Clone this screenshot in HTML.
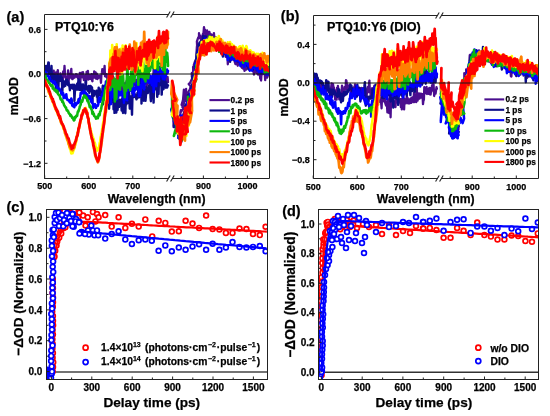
<!DOCTYPE html>
<html><head><meta charset="utf-8"><style>
html,body{margin:0;padding:0;background:#fff;}
svg{display:block;font-family:"Liberation Sans",sans-serif;font-weight:bold;}
text{stroke:#000;stroke-width:0.25px;}
</style></head><body>
<svg width="550" height="416" viewBox="0 0 550 416">
<defs><filter id="soft" x="0" y="0" width="1" height="1"><feGaussianBlur stdDeviation="0.5"/></filter></defs>
<rect width="550" height="416" fill="#fff"/>
<g filter="url(#soft)">
<defs>
<clipPath id="ca"><rect x="44.5" y="14.5" width="225.0" height="164.0"/></clipPath>
<clipPath id="cb"><rect x="313.5" y="15.5" width="225.0" height="163.0"/></clipPath>
<clipPath id="cc"><rect x="46.5" y="209.5" width="221.0" height="170.0"/></clipPath>
<clipPath id="cd"><rect x="318.5" y="209.5" width="220.0" height="170.0"/></clipPath>
</defs>
<g clip-path="url(#ca)" stroke-linecap="round">
<path d="M44.7 66.2 45.2 71 45.6 72 46.1 69.3 46.5 70.3 47 69 47.4 71.3 47.9 68 48.3 71 48.8 74 49.2 70.6 49.7 72.4 50.1 73.5 50.6 72.4 51 75 51.5 76.3 51.9 75.5 52.4 75.6 52.8 82.1 53.3 73.8 53.7 70.6 54.2 79.1 54.6 74.5 55.1 76.7 55.5 75.2 56 72.5 56.4 77.1 56.9 77.6 57.3 75.2 57.8 70.1 58.2 75.3 58.7 75.4 59.1 76.5 59.6 77.5 60 76.7 60.5 73.3 60.9 76 61.4 77.1 61.8 77.7 62.3 74.8 62.7 81.3 63.2 71.4 63.6 76.8 64.1 72.5 64.5 65.8 65 74.1 65.4 76.8 65.9 78.6 66.3 78.6 66.8 76.6 67.2 76.7 67.7 76 68.1 70.4 68.6 81.8 69 77.2 69.5 77.8 69.9 74.6 70.4 73.4 70.8 73.8 71.3 68.9 71.7 78.7 72.2 76.9 72.6 79.2 73.1 74.6 73.5 78 74 76.7 74.4 77.6 74.9 77.1 75.3 74.9 75.8 74.3 76.2 76 76.7 74.3 77.1 77 77.6 75.3 78 78.3 78.5 76.7 78.9 75.6 79.4 75.7 79.8 73 80.3 82.6 80.7 76.6 81.2 74.7 81.6 72.7 82.1 76.3 82.5 77.2 83 72.1 83.4 75.5 83.9 80 84.3 76.2 84.8 79.9 85.2 75.3 85.7 81.7 86.1 83.5 86.6 71.9 87 77.3 87.5 77.5 87.9 70.9 88.4 79.6 88.8 78.3 89.3 77.5 89.7 75 90.2 78.9 90.6 78 91.1 75.9 91.5 74.1 92 80.4 92.4 81.3 92.9 74.4 93.3 75.3 93.8 77.7 94.2 71.4 94.7 76.1 95.1 77.7 95.6 72.3 96 78.6 96.5 73.4 96.9 73.9 97.4 79.1 97.8 76.9 98.3 77.8 98.7 77.8 99.2 75.5 99.6 77.7 100.1 76.2 100.5 76.7 101 82.8 101.4 74.8 101.9 72.7 102.3 69.2 102.8 73 103.2 71.4 103.7 73.8 104.1 71.3 104.6 65.8 105 76.3 105.5 73.9 105.9 75.8 106.4 76.9 106.8 74.1 107.3 78.6 107.7 75.4 108.2 75.7 108.6 81.5 109.1 77.8 109.5 79.5 110 79.5 110.4 77.9 110.9 82.3 111.3 83.5 111.8 80.6 112.2 92 112.7 78.6 113.1 76.4 113.6 80.1 114 84 114.5 81.2 114.9 83.9 115.4 79.5 115.8 86.7 116.3 83.6 116.7 81.8 117.2 76.9 117.6 80.1 118.1 82 118.5 83.1 119 77.1 119.4 71.5 119.9 78.7 120.3 81 120.8 83.1 121.2 89.1 121.7 82.3 122.1 80.6 122.6 81.6 123 91.5 123.5 83 123.9 83.1 124.4 87 124.8 84 125.3 87 125.7 87.3 126.2 82.5 126.6 81 127.1 81.5 127.5 83.3 128 80.7 128.4 83.5 128.9 81 129.3 83.2 129.8 80.2 130.2 81.4 130.7 84 131.1 82.7 131.6 80.5 132 81.8 132.5 86.3 132.9 76.3 133.4 84.5 133.8 74.8 134.3 81.6 134.7 80 135.2 85.2 135.6 82.4 136.1 87.7 136.5 79.8 137 83.4 137.4 85.1 137.9 81.2 138.3 83 138.8 82.1 139.2 83.5 139.7 80.5 140.1 84.7 140.6 83.1 141 82 141.5 84.7 141.9 84.3 142.4 84.5 142.8 83.4 143.3 80.8 143.7 80.2 144.2 82.1 144.6 80.9 145.1 73 145.5 78.7 146 78.9 146.4 87.7 146.9 84.8 147.3 81.2 147.8 81.6 148.2 80.6 148.7 83.5 149.1 79 149.6 80.1 150 80.3 150.5 82.5 150.9 83.7 151.4 84.8 151.8 79.9 152.3 82.3 152.7 76.8 153.2 80.7 153.6 69.2 154.1 80.3 154.5 78.1 155 83.7 155.4 82.8 155.9 79 156.3 86 156.8 79.2 157.2 80.4 157.7 77.3 158.1 82 158.6 78.9 159 76.4 159.5 79.3 159.9 73.9 160.4 85.3 160.8 80.2 161.3 84.7 161.7 80.8 162.2 75.6 162.6 80.9 163.1 80.4 163.5 80 164 80.7 164.4 77.6 164.9 83.5 165.3 83.9 165.8 78.1 166.2 78.7 166.7 79.3 167.1 81.9 167.6 77 168 82.1 M173.2 92.1 172.2 88 172.8 105.4 173.2 108.2 171.6 110.1 173.1 113 173.6 125.6 174 112.8 175.8 111.5 173.9 127.2 178.2 117.6 177.9 121.9 177.2 119.5 179.8 132 177.4 125 178.2 128.3 179 121.4 177 118.9 179.2 121.6 180.9 110.1 180.4 112.6 183.1 109 184.1 105.9 182.2 105 181.6 104.8 183.4 98.5 183.9 89.6 182.4 107.1 184.7 101.1 185.7 94.1 186.1 89 185.1 94 187.6 104.7 187.6 93.5 188.8 97.2 188.9 99.3 188.4 93.4 186.8 94.2 189.8 89.5 190.7 86.4 188.7 84.1 189.5 83.2 189.6 83.9 192.9 76.6 193.3 80.4 191.8 72.9 191.8 75.6 193.7 73.1 193.1 66.9 193.2 73.9 193.9 64.6 195.2 61 196.4 59.1 196.5 53.6 196.9 46.8 197.1 45.3 196.9 41.4 198.3 37.4 199 36.6 199 33.2 199.5 38.1 200 35.5 200.4 36.6 200.8 37.2 201.3 41.5 201.7 36.6 202.2 38.6 202.6 35.4 203.1 33.5 203.5 33 204 27.1 204.4 31.8 204.9 29.6 205.3 35.4 205.8 36.1 206.2 32.8 206.7 32.6 207.1 30.4 207.6 32.9 208 36.5 208.5 35.6 208.9 36.2 209.4 31.8 209.8 34.9 210.3 37.1 210.7 33.8 211.2 35.1 211.6 35.3 212.1 37.8 212.5 35.6 213 35.1 213.4 34.8 213.9 33.1 214.3 37.1 214.8 38.2 215.2 39.2 215.7 37.2 216.1 40.6 216.6 39.7 217 38.2 217.5 38.6 217.9 38.3 218.4 40.4 218.8 40.7 219.3 47 219.7 42.5 220.2 46.2 220.6 45.3 221.1 47.7 221.5 46.6 222 46.1 222.4 50 222.9 52.1 223.3 50.9 223.8 50.5 224.2 51 224.7 53.3 225.1 48.1 225.6 56.8 226 53.6 226.5 54.6 226.9 53.1 227.4 52.3 227.8 64.3 228.3 53.9 228.7 57 229.2 59.4 229.6 48.4 230.1 59.1 230.5 57.1 231 58.3 231.4 55.6 231.9 58.8 232.3 55.9 232.8 59 233.2 59.6 233.7 59.1 234.1 59.3 234.6 61.1 235 62.6 235.5 64.1 235.9 59.8 236.4 61.9 236.8 56.5 237.3 64.6 237.7 65.7 238.2 64.2 238.6 63.2 239.1 62.4 239.5 62.8 240 64.3 240.4 64.4 240.9 63.8 241.3 66.3 241.8 67.7 242.2 62.7 242.7 65.2 243.1 68.7 243.6 65.3 244 66.5 244.5 70.8 244.9 66.6 245.4 68.1 245.8 67.6 246.3 69.7 246.7 67 247.2 68.4 247.6 68 248.1 65.9 248.5 63.5 249 68.2 249.4 69.8 249.9 68.3 250.3 69.1 250.8 69.1 251.2 69.4 251.7 70 252.1 66.3 252.6 69.3 253 71.4 253.5 69.7 253.9 74.5 254.4 71.3 254.8 71 255.3 71.6 255.7 69.7 256.2 69.9 256.6 73.2 257.1 72.7 257.5 73.6 258 74.6 258.4 72.7 258.9 74 259.3 71.9 259.8 72.6 260.2 78.6 260.7 73.2 261.1 80.5 261.6 69.9 262 74.6 262.5 71.8 262.9 73.9 263.4 67.5 263.8 71.5 264.3 74.4 264.7 72.5 265.2 80.1 265.6 69.4 266.1 74 266.5 72.1 267 77.7 267.4 76.9 267.9 71.6 268.3 74.4 268.8 75.2" fill="none" stroke="#4B0C8F" stroke-width="2.3" stroke-linejoin="round"/>
<path d="M44.7 67.6 45.2 66.3 45.6 69.9 46.1 65.9 46.5 71 47 70.3 47.4 69.5 47.9 66.7 48.3 62.5 48.8 62.7 49.2 74.1 49.7 72.5 50.1 73.1 50.6 70.6 51 79.3 51.5 66 51.9 75.8 52.4 75.7 52.8 80.2 53.3 80.2 53.7 74.7 54.2 75.5 54.6 77.6 55.1 75.3 55.5 76.2 56 89.9 56.4 78.6 56.9 84.9 57.3 87.9 57.8 75 58.2 91.6 58.7 80 59.1 77.4 59.6 78.7 60 80.7 60.5 75.5 60.9 79.1 61.4 81.3 61.8 77.8 62.3 92.2 62.7 84 63.2 80.7 63.6 81.9 64.1 86.6 64.5 85.3 65 83.4 65.4 85.7 65.9 80.3 66.3 81.5 66.8 79.7 67.2 84 67.7 81.2 68.1 85.1 68.6 82.4 69 85.9 69.5 86.3 69.9 90.2 70.4 84.9 70.8 87 71.3 85.3 71.7 88.1 72.2 84.7 72.6 85.3 73.1 88.9 73.5 86.5 74 84.7 74.4 101 74.9 91.6 75.3 89.9 75.8 89.9 76.2 85.9 76.7 84.9 77.1 83.8 77.6 89.6 78 84.4 78.5 79.5 78.9 82 79.4 89.9 79.8 82.2 80.3 86.6 80.7 87.6 81.2 90 81.6 84.4 82.1 91.1 82.5 87.2 83 84.5 83.4 88.5 83.9 88.5 84.3 94.7 84.8 85.6 85.2 87.7 85.7 81.3 86.1 86.6 86.6 86.3 87 89.5 87.5 89.4 87.9 90.7 88.4 88.5 88.8 85.9 89.3 92.8 89.7 87.5 90.2 85.9 90.6 85.9 91.1 91.2 91.5 91 92 87.4 92.4 102.7 92.9 90.5 93.3 91.5 93.8 95.9 94.2 91 94.7 91.7 95.1 92.2 95.6 94.4 96 93.4 96.5 90.7 96.9 96.9 97.4 92.6 97.8 102.2 98.3 93.6 98.7 87.6 99.2 95.3 99.6 88.6 100.1 92.7 100.5 92.6 101 93.3 101.4 96.5 101.9 92.6 102.3 91.2 102.8 85.8 103.2 104.2 103.7 89.2 104.1 90.9 104.6 91.3 105 91.8 105.5 89.9 105.9 89.8 106.4 92.1 106.8 90.1 107.3 94.6 107.7 91.8 108.2 83.1 108.6 93.3 109.1 108.7 109.5 94.3 110 100.3 110.4 89.1 110.9 88.1 111.3 101.6 111.8 96.4 112.2 98.8 112.7 101.6 113.1 91.8 113.6 109.4 114 92.9 114.5 112.9 114.9 110.9 115.4 107.8 115.8 112 116.3 112.6 116.7 93.4 117.2 98.7 117.6 110 118.1 99.6 118.5 104.1 119 106.9 119.4 105 119.9 99.7 120.3 100.4 120.8 103.5 121.2 102.5 121.7 110.6 122.1 98.8 122.6 104.4 123 113 123.5 98.9 123.9 103.2 124.4 94.9 124.8 104 125.3 113.3 125.7 103.3 126.2 104.6 126.6 101.6 127.1 99.7 127.5 98.7 128 103.1 128.4 103.1 128.9 87.8 129.3 98.8 129.8 108.6 130.2 102.5 130.7 96.4 131.1 104.4 131.6 101.4 132 114.7 132.5 92.6 132.9 88.4 133.4 96.5 133.8 97.1 134.3 93.5 134.7 94.1 135.2 95.2 135.6 96.9 136.1 97.9 136.5 99.4 137 97.8 137.4 93 137.9 95.4 138.3 89 138.8 97.5 139.2 96.5 139.7 94.2 140.1 95.4 140.6 95.2 141 77.9 141.5 103.5 141.9 92.9 142.4 89.5 142.8 96.2 143.3 89.2 143.7 100.7 144.2 92.9 144.6 96.2 145.1 90.4 145.5 100.9 146 94.8 146.4 86.9 146.9 90 147.3 91.1 147.8 93 148.2 90.2 148.7 89.3 149.1 85.6 149.6 87.2 150 84.3 150.5 96.7 150.9 101.2 151.4 94.9 151.8 89.7 152.3 88.1 152.7 84.8 153.2 84.4 153.6 102.6 154.1 86.3 154.5 82 155 84.2 155.4 89.3 155.9 80.5 156.3 86.4 156.8 84.6 157.2 96.9 157.7 90.9 158.1 77.8 158.6 94 159 77 159.5 84.6 159.9 66.9 160.4 72.3 160.8 71.3 161.3 76 161.7 94.6 162.2 81 162.6 80.2 163.1 76.2 163.5 89.2 164 83.6 164.4 87 164.9 80.3 165.3 87.2 165.8 87.7 166.2 82.4 166.7 83.9 167.1 87.5 167.6 86.1 168 85.4 M173.4 99.2 172.6 102.4 174.4 107.3 172 109 172.9 117.9 173.9 115.5 175.8 121.8 177.1 115.7 175.3 124.8 175.3 117 173.7 126.9 178.1 127.7 180.7 129.7 178.4 135 179.5 131.3 176.7 130.2 179.4 138.6 178.3 133.6 180.7 123.3 182.1 135.4 180.7 132.5 181.7 137.4 182.8 126.6 183 117.3 182.8 117.1 185.6 124.3 184.1 119.2 183.3 114.8 184.6 111.2 187 113.9 185.3 118 185.6 104.5 186.9 112.2 188 106.6 188.6 104.3 186.8 121.2 190.4 104.4 187.9 95.2 189.5 99.8 191.8 94.1 189.5 93.8 193 90.4 192.7 94.7 191.3 88.9 191.5 87.1 193.5 80.2 193.2 81 191.9 76.6 194.9 74.4 195 73.6 196.1 71.8 194.9 67.6 195.2 63.8 196.5 57.1 196.4 56.5 197.3 50.4 198.5 50.7 198.7 52.7 198.6 44.1 199 46.3 199.5 42.4 200 45.3 200.4 41.7 200.8 43.8 201.3 42.9 201.7 44.8 202.2 42.8 202.6 42.9 203.1 36 203.5 39.5 204 36.2 204.4 40 204.9 42.4 205.3 50.4 205.8 36.4 206.2 39.1 206.7 42.2 207.1 38.6 207.6 39.8 208 40 208.5 41.2 208.9 38 209.4 41 209.8 40.8 210.3 41.5 210.7 42.6 211.2 37.2 211.6 39.1 212.1 38.2 212.5 41.1 213 41 213.4 45.2 213.9 39.3 214.3 49.1 214.8 38.3 215.2 44.5 215.7 46.7 216.1 43.9 216.6 44 217 42.9 217.5 44.5 217.9 46 218.4 45.9 218.8 49.1 219.3 48.1 219.7 47.3 220.2 50.7 220.6 45.8 221.1 53.3 221.5 47.3 222 51 222.4 48.6 222.9 56.6 223.3 52.9 223.8 53 224.2 49.8 224.7 53 225.1 51.4 225.6 54.2 226 53.1 226.5 55.9 226.9 55.5 227.4 57 227.8 56.6 228.3 54.3 228.7 55 229.2 58.6 229.6 57.7 230.1 61.9 230.5 57.6 231 56.1 231.4 55.8 231.9 54.3 232.3 48.9 232.8 57.2 233.2 57.4 233.7 52.8 234.1 58.6 234.6 60.1 235 58.7 235.5 53.6 235.9 56.9 236.4 60.9 236.8 59 237.3 59.1 237.7 61.6 238.2 57.3 238.6 59 239.1 61.3 239.5 54.1 240 59.2 240.4 59.3 240.9 59.7 241.3 64.1 241.8 61.1 242.2 60.9 242.7 61.6 243.1 61.6 243.6 60.3 244 64.8 244.5 63.6 244.9 63.4 245.4 59.7 245.8 65 246.3 65.8 246.7 65.7 247.2 65.8 247.6 62.7 248.1 58.8 248.5 69.3 249 65.6 249.4 65.1 249.9 64.5 250.3 66.2 250.8 65.1 251.2 66.9 251.7 67.9 252.1 65.5 252.6 67.2 253 69.7 253.5 66.2 253.9 67.4 254.4 66.5 254.8 65.7 255.3 65.5 255.7 65.8 256.2 66.6 256.6 69.7 257.1 70.4 257.5 64.2 258 67.8 258.4 65.7 258.9 68.4 259.3 68.6 259.8 68.4 260.2 69.3 260.7 66.8 261.1 73.5 261.6 71.8 262 70.7 262.5 68.6 262.9 70.4 263.4 68.4 263.8 65.9 264.3 72 264.7 67 265.2 70.5 265.6 68.6 266.1 71.2 266.5 70 267 73.2 267.4 68.7 267.9 72.7 268.3 70.6 268.8 73.4" fill="none" stroke="#0A0A8A" stroke-width="2.4" stroke-linejoin="round"/>
<path d="M44.7 71.5 45.2 72.6 45.6 71.8 46.1 74.5 46.5 72.6 47 76.1 47.4 75.5 47.9 75.8 48.3 76.1 48.8 76.9 49.2 79 49.7 77.3 50.1 79.3 50.6 81.1 51 81.1 51.5 81.3 51.9 80.8 52.4 81.8 52.8 82.6 53.3 83.1 53.7 83 54.2 81.4 54.6 84 55.1 82.1 55.5 84.5 56 85.2 56.4 84.5 56.9 86.5 57.3 88.4 57.8 87.4 58.2 89 58.7 88.5 59.1 89.8 59.6 88.7 60 90.5 60.5 90.8 60.9 91.5 61.4 94.4 61.8 91.8 62.3 94.6 62.7 94.5 63.2 93.2 63.6 98.2 64.1 95.2 64.5 97.6 65 95.5 65.4 97.3 65.9 98 66.3 94.2 66.8 98.3 67.2 99.8 67.7 100.1 68.1 99.8 68.6 100.5 69 100 69.5 102 69.9 102.1 70.4 102.9 70.8 102.1 71.3 98.5 71.7 99.7 72.2 105.7 72.6 104.3 73.1 105.9 73.5 106.7 74 106.9 74.4 107.2 74.9 102.9 75.3 104.5 75.8 105.3 76.2 103.9 76.7 103.3 77.1 103.6 77.6 102.1 78 103 78.5 99.3 78.9 100.9 79.4 102.1 79.8 98.4 80.3 96.5 80.7 92.8 81.2 93.3 81.6 93.4 82.1 93.4 82.5 91.9 83 92.5 83.4 92.4 83.9 92.2 84.3 90.8 84.8 95.1 85.2 93.1 85.7 92.8 86.1 92.7 86.6 95.2 87 94.9 87.5 94.6 87.9 97.1 88.4 96.3 88.8 97.4 89.3 98.7 89.7 96 90.2 99.2 90.6 99.5 91.1 101.8 91.5 99.2 92 100.5 92.4 103.4 92.9 103.9 93.3 107.9 93.8 104.7 94.2 105.3 94.7 105.7 95.1 104.1 95.6 106 96 107.9 96.5 105.7 96.9 105.7 97.4 106 97.8 105.9 98.3 104.2 98.7 101.6 99.2 97.6 99.6 101.1 100.1 101.8 100.5 100.5 101 99 101.4 98.4 101.9 95.3 102.3 93.5 102.8 94.8 103.2 90.7 103.7 88.2 104.1 90.3 104.6 88.9 105 85.4 105.5 87.2 105.9 81.6 106.4 82.9 106.8 82.4 107.3 86 107.7 87.5 108.2 89.2 108.6 85.3 109.1 94.2 109.5 93.4 110 87.5 110.4 86.5 110.9 104.2 111.3 96.6 111.8 76.6 112.2 85.7 112.7 95.6 113.1 87.8 113.6 97.5 114 95 114.5 98.2 114.9 96.2 115.4 87.7 115.8 95.3 116.3 100.1 116.7 90.2 117.2 99 117.6 88.4 118.1 97.5 118.5 93.8 119 92.2 119.4 91.3 119.9 94.6 120.3 95.2 120.8 93.4 121.2 91.3 121.7 93.3 122.1 92.1 122.6 97.7 123 98.1 123.5 97.9 123.9 103 124.4 91.1 124.8 88.3 125.3 89.6 125.7 99.4 126.2 91.9 126.6 93.4 127.1 100.5 127.5 84.7 128 84.6 128.4 86.3 128.9 90.5 129.3 87.5 129.8 88.6 130.2 83.9 130.7 90.8 131.1 89.2 131.6 86.8 132 82.8 132.5 92.9 132.9 90.2 133.4 78.3 133.8 95.8 134.3 90.6 134.7 90.6 135.2 88.5 135.6 88.4 136.1 89.4 136.5 88.5 137 82.1 137.4 87.5 137.9 82.6 138.3 63.7 138.8 96 139.2 86.9 139.7 85 140.1 96.2 140.6 92.9 141 88.2 141.5 86.8 141.9 77.1 142.4 87.3 142.8 81.5 143.3 78 143.7 73 144.2 89.5 144.6 79.2 145.1 80.5 145.5 79.2 146 82.6 146.4 78.2 146.9 78.8 147.3 79.3 147.8 81.6 148.2 65.9 148.7 80.7 149.1 83.1 149.6 75.5 150 81.2 150.5 76 150.9 78.8 151.4 82.6 151.8 85.3 152.3 76.2 152.7 79.5 153.2 74.7 153.6 91.9 154.1 81.4 154.5 77.8 155 68.5 155.4 67 155.9 73.2 156.3 86.1 156.8 71.2 157.2 81.3 157.7 75.2 158.1 67.7 158.6 80.9 159 81.1 159.5 75.4 159.9 69.3 160.4 74 160.8 70.4 161.3 74 161.7 75.2 162.2 74.2 162.6 78 163.1 79.1 163.5 69.4 164 74.2 164.4 79.6 164.9 74.8 165.3 72.8 165.8 76.7 166.2 70.5 166.7 73.8 167.1 69.5 167.6 73 168 70.9 M172.8 94.5 173.9 103.5 173.2 105.2 171.2 109.5 175.1 123 175.2 118.2 173.9 121.1 174.3 121.7 176.4 117.8 176 129.3 176.4 123.7 177.5 130.7 179 130.1 178.6 132 179.7 136.6 178.2 138 178.8 136.2 179.8 123.5 181.2 135.2 181.4 138.9 181.4 141.4 180.8 128.3 182.2 125.8 182.7 124.7 182.3 129.8 181.2 115.5 186.1 120.2 183.9 117 188.3 116.6 186 122.5 185.3 122.1 187.1 116.5 186.4 114.9 185.9 112 186 108.7 187.6 105.3 187.4 101.8 190.9 106.4 189.4 99.8 190.7 92.1 190.1 96.2 192.4 91.9 191 93.4 190.2 92.1 194.7 85.4 194.2 87.6 192.8 89.3 193.8 83.3 193.4 80.8 194.4 77.8 194.5 71.5 196.1 69.3 195.7 63.3 195.5 65 198.6 61.5 197.5 60.4 198.1 58.8 198.2 53 198.5 53.7 199 48.3 199.5 53.7 200 49.8 200.4 50.1 200.8 49.6 201.3 45.2 201.7 44.4 202.2 47 202.6 43.9 203.1 47.5 203.5 43.4 204 44 204.4 42.2 204.9 38.6 205.3 43.5 205.8 42.9 206.2 45.6 206.7 42.4 207.1 42.9 207.6 45.5 208 44.4 208.5 43.3 208.9 40.3 209.4 43.8 209.8 42.6 210.3 43.1 210.7 45.6 211.2 43.8 211.6 46.1 212.1 39.2 212.5 43.3 213 41 213.4 43.1 213.9 46.5 214.3 42.1 214.8 41.6 215.2 44.1 215.7 44.2 216.1 45.5 216.6 47.6 217 43.3 217.5 43.4 217.9 48 218.4 43.4 218.8 49.8 219.3 51.6 219.7 49.4 220.2 46.6 220.6 49.5 221.1 49 221.5 52.3 222 50.3 222.4 50.6 222.9 52.7 223.3 50.2 223.8 50.9 224.2 52 224.7 47.8 225.1 52.2 225.6 54 226 54.1 226.5 54.1 226.9 54.2 227.4 54.3 227.8 60.1 228.3 54.8 228.7 54 229.2 55.3 229.6 55.1 230.1 54.8 230.5 57.8 231 53.2 231.4 59.8 231.9 58.4 232.3 58 232.8 59 233.2 53.8 233.7 58.9 234.1 54.4 234.6 58.9 235 50.5 235.5 61 235.9 60.7 236.4 59.5 236.8 60.4 237.3 58.4 237.7 59.8 238.2 60.5 238.6 61.3 239.1 60.9 239.5 61.7 240 58.3 240.4 65.9 240.9 63.5 241.3 59.4 241.8 63.5 242.2 60.6 242.7 60.2 243.1 63.6 243.6 63.6 244 67.2 244.5 62.1 244.9 66.4 245.4 60.9 245.8 58.7 246.3 58.7 246.7 60.9 247.2 63.8 247.6 64 248.1 65.5 248.5 64.6 249 63.4 249.4 64.5 249.9 70.8 250.3 62.2 250.8 68.4 251.2 64.3 251.7 64.4 252.1 70.6 252.6 65.6 253 67.9 253.5 67.5 253.9 66.7 254.4 65.7 254.8 65.7 255.3 68.2 255.7 68.8 256.2 66.5 256.6 68.9 257.1 67.2 257.5 70.6 258 67.5 258.4 69.3 258.9 71.1 259.3 72.6 259.8 67.4 260.2 71.4 260.7 65.7 261.1 70.5 261.6 67.5 262 67.9 262.5 72 262.9 69.2 263.4 70.6 263.8 70.1 264.3 72.1 264.7 73.2 265.2 72.9 265.6 71.9 266.1 70.2 266.5 74.8 267 69.9 267.4 74.4 267.9 74.5 268.3 72.9 268.8 74" fill="none" stroke="#0000FF" stroke-width="2.5" stroke-linejoin="round"/>
<path d="M44.7 77.3 45.2 74.1 45.6 78.1 46.1 78.1 46.5 79.9 47 79.9 47.4 81.7 47.9 81 48.3 81.2 48.8 82.8 49.2 83.3 49.7 83.2 50.1 83.9 50.6 85.3 51 85.8 51.5 85.3 51.9 85.9 52.4 85.2 52.8 88.5 53.3 87.4 53.7 89.1 54.2 88.8 54.6 90.5 55.1 90.6 55.5 90.1 56 91.6 56.4 90.2 56.9 92.5 57.3 90.9 57.8 93.1 58.2 94.5 58.7 94.6 59.1 95 59.6 95.5 60 96.8 60.5 98.9 60.9 99.6 61.4 99.6 61.8 99.6 62.3 102 62.7 101.1 63.2 102.6 63.6 103.3 64.1 105.3 64.5 105.7 65 106.6 65.4 107.2 65.9 107.2 66.3 108.9 66.8 110.4 67.2 109.9 67.7 111.1 68.1 111.2 68.6 112.8 69 113.2 69.5 114 69.9 114.2 70.4 115.9 70.8 114.9 71.3 115.7 71.7 116.2 72.2 117.9 72.6 117.6 73.1 118.1 73.5 119.7 74 120.4 74.4 120 74.9 117 75.3 117.9 75.8 117 76.2 115.8 76.7 115.3 77.1 115.9 77.6 112.9 78 111.4 78.5 111.5 78.9 109.7 79.4 108.4 79.8 106.4 80.3 105.6 80.7 104.6 81.2 101.4 81.6 100.5 82.1 101.8 82.5 100.6 83 98.5 83.4 97.1 83.9 96.9 84.3 95.4 84.8 95.8 85.2 97.5 85.7 96.5 86.1 98 86.6 97.7 87 99.2 87.5 101.3 87.9 100.1 88.4 102.2 88.8 103.4 89.3 104.8 89.7 107 90.2 107.3 90.6 106.5 91.1 108.8 91.5 109.3 92 110.3 92.4 113.9 92.9 112 93.3 113.9 93.8 113.8 94.2 116 94.7 116.3 95.1 116.8 95.6 117.2 96 118.7 96.5 117.1 96.9 117.3 97.4 116.7 97.8 118.3 98.3 116.1 98.7 114.4 99.2 113.8 99.6 115.3 100.1 111.8 100.5 111.3 101 109.5 101.4 107.4 101.9 105 102.3 103.4 102.8 101.5 103.2 97.9 103.7 100.2 104.1 96.4 104.6 93.3 105 90.6 105.5 87.7 105.9 89 106.4 85.8 106.8 86.6 107.3 80 107.7 85.1 108.2 91.5 108.6 81.7 109.1 87.1 109.5 83.3 110 89.9 110.4 89.9 110.9 84.1 111.3 80.5 111.8 85.7 112.2 84.2 112.7 80.3 113.1 86.7 113.6 86.5 114 78.6 114.5 83.2 114.9 101.4 115.4 88.7 115.8 84.3 116.3 98.7 116.7 80.9 117.2 68.6 117.6 72 118.1 74.2 118.5 84.8 119 89.1 119.4 70.1 119.9 89.7 120.3 75.6 120.8 84.4 121.2 85.5 121.7 85.2 122.1 82.5 122.6 83.3 123 75.3 123.5 83.7 123.9 87.7 124.4 87.2 124.8 97.1 125.3 87.8 125.7 85.4 126.2 90.8 126.6 82.1 127.1 72.7 127.5 66.8 128 87.7 128.4 83.2 128.9 84.6 129.3 77.3 129.8 81.2 130.2 90.2 130.7 80.7 131.1 71.8 131.6 75.6 132 86.3 132.5 71.2 132.9 61.9 133.4 63.4 133.8 68.9 134.3 81.4 134.7 76.9 135.2 71.5 135.6 68 136.1 74.8 136.5 74.2 137 71.5 137.4 73.1 137.9 69.7 138.3 84.8 138.8 59.5 139.2 74.1 139.7 67 140.1 77 140.6 71.1 141 74.4 141.5 75.1 141.9 72.9 142.4 77.3 142.8 62.8 143.3 76.6 143.7 69.3 144.2 72.6 144.6 79.4 145.1 76.6 145.5 81.5 146 55.8 146.4 63.3 146.9 74.6 147.3 61.7 147.8 67.2 148.2 78.3 148.7 73 149.1 61.8 149.6 70 150 70.9 150.5 67.2 150.9 66 151.4 67.2 151.8 57.1 152.3 66.6 152.7 59.8 153.2 67.8 153.6 67.7 154.1 59.6 154.5 68.4 155 66.6 155.4 63.9 155.9 68.3 156.3 61.8 156.8 61.8 157.2 63.7 157.7 62.7 158.1 69.6 158.6 48.3 159 60.5 159.5 50.1 159.9 58.8 160.4 63.2 160.8 61.5 161.3 67.1 161.7 63 162.2 44.5 162.6 54.1 163.1 70 163.5 69.9 164 61 164.4 51 164.9 73.2 165.3 47.5 165.8 61.8 166.2 59.6 166.7 61.2 167.1 52.7 167.6 57.2 168 66 M173.1 103.9 172.2 115.3 172.1 96.1 174.7 107.2 173.1 116.9 175.4 118.4 176.9 122.7 174.1 118.8 176.8 126.9 173.9 135.9 175.3 130.2 179 134 177.2 124.8 177.4 119.1 179.7 129.3 180.1 131.3 179.6 138.5 180.5 130.9 182 133.6 183.3 132.9 181.5 140.6 181.3 132.3 180.6 128.2 183.4 129.2 185 129.2 183.5 131.3 184.2 121.8 182.3 132.4 186.5 127.5 185.3 124.3 186.6 123.4 186.8 117.2 187.4 109.6 187.3 112.2 189.5 109.4 187.7 116 190.5 105 189.3 108.8 189 107.8 188 96.8 188.1 100 191.1 99.7 191.7 101.9 191.6 92.5 191.8 94.8 192.5 91.3 193.6 85.4 193.2 87.9 193.8 84.8 196.4 79.2 194.4 79.2 195.9 76.1 196.2 70.6 196.4 65.6 197.1 66.6 197.1 64.3 197.9 62.8 198.2 61.2 198.7 60.6 199.2 56.8 199.5 53.7 199.9 51.2 200.4 55.4 200.8 48.4 201.3 48.5 201.7 50.1 202.2 45.7 202.6 54.7 203.1 50 203.5 46.3 204 44.2 204.4 44.6 204.9 45.7 205.3 42.6 205.8 47 206.2 48.1 206.7 41.2 207.1 43.7 207.6 46.2 208 40.1 208.5 45.9 208.9 42.8 209.4 36.3 209.8 42.5 210.3 39.7 210.7 44.9 211.2 42.8 211.6 40 212.1 42.1 212.5 46.6 213 41.4 213.4 42.5 213.9 46.7 214.3 45.5 214.8 43.4 215.2 43.8 215.7 43.2 216.1 42 216.6 48.6 217 47.1 217.5 42.6 217.9 44.4 218.4 42.2 218.8 43.5 219.3 51.8 219.7 48.5 220.2 50.5 220.6 44.3 221.1 48.1 221.5 42.4 222 46.6 222.4 49.3 222.9 45 223.3 50.5 223.8 47.6 224.2 46.8 224.7 51.8 225.1 49.5 225.6 52 226 48.3 226.5 47.7 226.9 47.8 227.4 49.4 227.8 53.2 228.3 51.7 228.7 53.7 229.2 48.5 229.6 54.1 230.1 55.6 230.5 53 231 53.7 231.4 51.4 231.9 50.6 232.3 53.6 232.8 48.3 233.2 55.1 233.7 55.5 234.1 55.2 234.6 56.4 235 53.2 235.5 52.9 235.9 52.1 236.4 58.5 236.8 57.2 237.3 55.4 237.7 56.3 238.2 55.6 238.6 58.4 239.1 56.3 239.5 54.7 240 55.5 240.4 54.3 240.9 59.7 241.3 59.3 241.8 57 242.2 57.8 242.7 60 243.1 62.8 243.6 57.3 244 60.3 244.5 57.5 244.9 58.5 245.4 60.8 245.8 55.3 246.3 56.7 246.7 58.7 247.2 61.2 247.6 56.7 248.1 61.2 248.5 59.2 249 60 249.4 56.8 249.9 61.2 250.3 59.9 250.8 60.9 251.2 60.6 251.7 57 252.1 59.1 252.6 59.1 253 61.3 253.5 64.4 253.9 62.5 254.4 61.2 254.8 63.4 255.3 65.3 255.7 58.6 256.2 61.1 256.6 62.4 257.1 64.9 257.5 62.1 258 61.1 258.4 62.5 258.9 63.4 259.3 64.8 259.8 65.8 260.2 67.5 260.7 64.3 261.1 67.1 261.6 65.6 262 64.2 262.5 61.7 262.9 64 263.4 67.5 263.8 67.8 264.3 64.2 264.7 72.8 265.2 65.6 265.6 66.2 266.1 71.1 266.5 69.4 267 71.4 267.4 72.2 267.9 66.9 268.3 71.1 268.8 71.7" fill="none" stroke="#0CB80C" stroke-width="2.6" stroke-linejoin="round"/>
<path d="M44.7 81.5 45.2 81.4 45.6 82 46.1 82.2 46.5 85.1 47 87.3 47.4 87.5 47.9 89 48.3 90.5 48.8 90.2 49.2 93.9 49.7 92.5 50.1 94.5 50.6 97.4 51 96.5 51.5 97.8 51.9 98.6 52.4 100.4 52.8 99.8 53.3 102 53.7 104.9 54.2 105 54.6 105.8 55.1 107.4 55.5 108.5 56 109.4 56.4 110.8 56.9 110.3 57.3 113 57.8 113.1 58.2 115.2 58.7 115.7 59.1 116.1 59.6 117.8 60 118.3 60.5 120.9 60.9 121.2 61.4 123 61.8 122.7 62.3 125.8 62.7 125.5 63.2 127.9 63.6 128.7 64.1 128.5 64.5 130.8 65 131.5 65.4 133.5 65.9 135.6 66.3 136.5 66.8 138.3 67.2 138.2 67.7 140.7 68.1 142.3 68.6 144.3 69 144.5 69.5 147 69.9 148.8 70.4 149.2 70.8 151.2 71.3 153.4 71.7 152.6 72.2 152.3 72.6 153.2 73.1 151.7 73.5 150.2 74 149.2 74.4 147.5 74.9 145.9 75.3 144.1 75.8 142.9 76.2 141.5 76.7 138.2 77.1 136.5 77.6 134.4 78 131.4 78.5 130.4 78.9 128.6 79.4 125.2 79.8 124.5 80.3 121.5 80.7 121 81.2 119.1 81.6 116.1 82.1 113.3 82.5 113.1 83 111.1 83.4 110 83.9 109.8 84.3 110.2 84.8 108.5 85.2 108.4 85.7 107.8 86.1 109.8 86.6 110.5 87 113.4 87.5 114.2 87.9 116.5 88.4 118.8 88.8 121 89.3 124.2 89.7 126.1 90.2 127.4 90.6 129.5 91.1 131.5 91.5 133.8 92 134.5 92.4 137.1 92.9 137 93.3 138.8 93.8 139.4 94.2 142.6 94.7 142.6 95.1 144 95.6 146.8 96 147.3 96.5 148.6 96.9 150.7 97.4 149.7 97.8 150 98.3 148.2 98.7 148 99.2 146.4 99.6 143.2 100.1 142.2 100.5 138.1 101 135.8 101.4 133.6 101.9 131.7 102.3 128 102.8 125 103.2 122.6 103.7 120.4 104.1 116 104.6 112 105 109.6 105.5 107.1 105.9 101.7 106.4 99.6 106.8 90.3 107.3 92.5 107.7 89.1 108.2 87.4 108.6 80.7 109.1 77.7 109.5 61.6 110 68.8 110.4 50.6 110.9 56.2 111.3 66.8 111.8 64.1 112.2 45 112.7 62 113.1 54.7 113.6 52.2 114 59 114.5 58.4 114.9 67.2 115.4 47.3 115.8 54.3 116.3 56.3 116.7 44.3 117.2 65.4 117.6 69.4 118.1 52.7 118.5 59.7 119 55.2 119.4 58.9 119.9 52.3 120.3 62.8 120.8 48.8 121.2 66.5 121.7 59.5 122.1 74 122.6 45.5 123 56.4 123.5 48.1 123.9 56.2 124.4 60.3 124.8 50.9 125.3 47.4 125.7 45.3 126.2 59.1 126.6 66.6 127.1 65.9 127.5 58 128 51.1 128.4 55.4 128.9 47.4 129.3 46.9 129.8 65.5 130.2 56.1 130.7 60.2 131.1 56.1 131.6 67.2 132 68 132.5 52.5 132.9 55.3 133.4 53.1 133.8 67 134.3 66.4 134.7 55.6 135.2 73.7 135.6 57.7 136.1 48.9 136.5 43.1 137 56.3 137.4 59.4 137.9 53 138.3 59.5 138.8 65.3 139.2 56.4 139.7 62.6 140.1 68.3 140.6 60 141 52.4 141.5 59.4 141.9 60 142.4 71.1 142.8 53 143.3 45.1 143.7 57.9 144.2 58 144.6 52.7 145.1 59.5 145.5 57.6 146 63.7 146.4 49.3 146.9 50 147.3 54.7 147.8 51.1 148.2 63.4 148.7 58.4 149.1 54 149.6 64.7 150 57.3 150.5 60.6 150.9 59.1 151.4 52.2 151.8 52.1 152.3 52.9 152.7 45 153.2 50 153.6 58.2 154.1 54.1 154.5 45.1 155 68 155.4 43.9 155.9 55.2 156.3 55.7 156.8 59.2 157.2 43.9 157.7 49.8 158.1 48 158.6 57 159 51.4 159.5 51.4 159.9 51.9 160.4 61.5 160.8 52.2 161.3 53.4 161.7 40.4 162.2 51.5 162.6 37.6 163.1 52.6 163.5 46.8 164 39.2 164.4 37.1 164.9 44.1 165.3 45.3 165.8 40.2 166.2 41.5 166.7 41.3 167.1 39.4 167.6 41.5 168 44.4 M172.5 94.1 174.1 98.9 173.2 94.7 173.3 108.6 171.9 114.9 174.3 116.6 174.9 106.8 172.2 114.3 176.3 114.9 177 116.7 177.7 122.2 179.2 117.8 176 117.7 178.8 122.5 178.1 122.9 178.2 133.6 180.4 130.6 181.8 136.2 179.9 134.5 181.4 129.6 178.6 125.6 178 128.7 184.3 136 182.6 134.4 184.8 129.8 183.7 133 183.6 128.1 184.3 121.7 186.4 135.9 186.5 127.3 184.3 119.3 189.9 113.3 188.3 125.7 188.1 120.2 186.2 120.6 187.7 123.6 188.9 125.4 188.7 111.5 190.8 114.7 191.8 108.1 191.8 99.5 191.4 107.8 190.9 101.5 192 98.4 192.5 96.7 190.9 92 192.8 96.3 193.5 95.9 194.2 89 193.5 82.2 195 76.2 195.5 78.9 194.9 72.1 196.7 70.9 197.4 70.2 197.1 64.1 197.6 61.8 198.5 58 197.8 54.5 198.8 55.9 199.6 51.8 200 53.9 200.4 48.6 200.8 48.9 201.3 47 201.7 42.1 202.2 47.4 202.6 45 203.1 48 203.5 47.1 204 40.6 204.4 43.3 204.9 41.4 205.3 44.3 205.8 40.4 206.2 41.2 206.7 39.8 207.1 40.6 207.6 40.5 208 39.8 208.5 41.1 208.9 38.9 209.4 39.2 209.8 37.1 210.3 38.7 210.7 41.9 211.2 37.8 211.6 39.3 212.1 37.3 212.5 40.2 213 42.2 213.4 40.9 213.9 39.4 214.3 41.6 214.8 39.2 215.2 41.3 215.7 37.9 216.1 37.7 216.6 46.4 217 39.9 217.5 42 217.9 39.8 218.4 41.4 218.8 36.1 219.3 38.7 219.7 40.5 220.2 44.5 220.6 42.8 221.1 39.3 221.5 42.1 222 43.7 222.4 40.5 222.9 44.5 223.3 49.6 223.8 46.1 224.2 44 224.7 42.8 225.1 45.4 225.6 44.3 226 51.1 226.5 44.2 226.9 46.1 227.4 44.6 227.8 42.4 228.3 44.3 228.7 45.9 229.2 47.7 229.6 49.9 230.1 42.1 230.5 44.5 231 48.6 231.4 44.8 231.9 44 232.3 47.8 232.8 47.3 233.2 46.3 233.7 45.5 234.1 47.8 234.6 47.4 235 47.4 235.5 49 235.9 47.2 236.4 48.7 236.8 49.7 237.3 50.3 237.7 52.1 238.2 48.5 238.6 50.1 239.1 46.8 239.5 50.1 240 46.2 240.4 50.2 240.9 47.1 241.3 47.3 241.8 48.4 242.2 50.5 242.7 45.8 243.1 50.6 243.6 51.7 244 50.6 244.5 48.1 244.9 53.5 245.4 49 245.8 51.3 246.3 46 246.7 46.9 247.2 50.2 247.6 51.8 248.1 53.9 248.5 53.8 249 54.3 249.4 55.3 249.9 52.9 250.3 50.2 250.8 53 251.2 52.5 251.7 52 252.1 52.7 252.6 56.3 253 52.4 253.5 53.7 253.9 52.8 254.4 55.8 254.8 54.4 255.3 55 255.7 54.5 256.2 58.4 256.6 53.9 257.1 55.2 257.5 54 258 55.8 258.4 53.9 258.9 60.6 259.3 55.6 259.8 58.9 260.2 56.2 260.7 58.2 261.1 59 261.6 60.6 262 56.6 262.5 52.8 262.9 64.9 263.4 59.5 263.8 59.8 264.3 58.5 264.7 59.6 265.2 57.6 265.6 57.7 266.1 63.3 266.5 62.9 267 59.4 267.4 61 267.9 60.5 268.3 59.7 268.8 64.8" fill="none" stroke="#FFFF00" stroke-width="2.6" stroke-linejoin="round"/>
<path d="M44.7 80 45.2 81.4 45.6 83.4 46.1 83.9 46.5 85.7 47 87 47.4 86.5 47.9 89.4 48.3 89.3 48.8 92.3 49.2 92.5 49.7 92.7 50.1 94.4 50.6 95.6 51 96.8 51.5 98.7 51.9 99.3 52.4 101.3 52.8 101.8 53.3 102.4 53.7 102.6 54.2 103.7 54.6 106.1 55.1 107.6 55.5 109.3 56 108.9 56.4 110.5 56.9 110.9 57.3 112.2 57.8 111.9 58.2 115.2 58.7 115.2 59.1 116.7 59.6 118.2 60 119.2 60.5 119.2 60.9 122.4 61.4 122.9 61.8 123.9 62.3 124.2 62.7 124.7 63.2 125.8 63.6 128 64.1 129.5 64.5 130.1 65 133.2 65.4 133.4 65.9 135.2 66.3 136.6 66.8 136.5 67.2 139.5 67.7 140.5 68.1 140.6 68.6 143.3 69 144.8 69.5 146 69.9 147.3 70.4 146.8 70.8 148.8 71.3 149.3 71.7 150 72.2 149.9 72.6 150.2 73.1 149.3 73.5 147.3 74 147.8 74.4 147.3 74.9 144.9 75.3 141.9 75.8 140.8 76.2 139.2 76.7 136.2 77.1 135.5 77.6 132.8 78 132.3 78.5 130.2 78.9 127.6 79.4 124.8 79.8 124 80.3 121.5 80.7 119.6 81.2 119.1 81.6 115.9 82.1 113.8 82.5 113.9 83 113.5 83.4 112.3 83.9 110.6 84.3 110.7 84.8 108.3 85.2 110.2 85.7 110.8 86.1 110 86.6 111.9 87 112 87.5 113.9 87.9 117.3 88.4 118.5 88.8 122.3 89.3 125.2 89.7 127.5 90.2 130.5 90.6 133.4 91.1 134.2 91.5 136.9 92 139.4 92.4 139.9 92.9 141.8 93.3 142.6 93.8 147.1 94.2 149.9 94.7 151.7 95.1 155.1 95.6 156.6 96 157.7 96.5 158.5 96.9 159.3 97.4 161.3 97.8 162.3 98.3 161.7 98.7 160.1 99.2 157.8 99.6 155.9 100.1 151.4 100.5 149.7 101 146.9 101.4 144.1 101.9 140.7 102.3 136.5 102.8 132.6 103.2 128.4 103.7 126.7 104.1 122.8 104.6 119.4 105 115.7 105.5 111.7 105.9 112.1 106.4 105.9 106.8 102.8 107.3 102.9 107.7 85.1 108.2 82.8 108.6 82.8 109.1 78.7 109.5 63.3 110 65.9 110.4 60.2 110.9 58.6 111.3 64 111.8 61.8 112.2 68.4 112.7 64.2 113.1 70.2 113.6 53.8 114 62.3 114.5 49.3 114.9 47.4 115.4 49.2 115.8 63.9 116.3 60.2 116.7 47.2 117.2 67.8 117.6 65.3 118.1 57.2 118.5 56.7 119 58.2 119.4 49.7 119.9 74.7 120.3 54.9 120.8 56.7 121.2 55.8 121.7 53.3 122.1 51.5 122.6 60.2 123 49.1 123.5 50.4 123.9 52 124.4 63.3 124.8 50.6 125.3 50.5 125.7 59.8 126.2 49.5 126.6 55.1 127.1 63.6 127.5 60.2 128 57.4 128.4 67.9 128.9 54.2 129.3 52.8 129.8 44.6 130.2 57.1 130.7 61.2 131.1 52 131.6 69.8 132 63.7 132.5 62.9 132.9 47.8 133.4 58.2 133.8 58.6 134.3 41.6 134.7 55.6 135.2 53.9 135.6 43.3 136.1 58.8 136.5 69.5 137 60.3 137.4 48.9 137.9 52.9 138.3 62.4 138.8 48.5 139.2 56.7 139.7 54.3 140.1 55.2 140.6 65.4 141 42.9 141.5 61.7 141.9 55.2 142.4 52.5 142.8 41.3 143.3 55 143.7 49.8 144.2 31.9 144.6 42.8 145.1 43.8 145.5 45 146 47.6 146.4 45.9 146.9 62.6 147.3 59 147.8 50.8 148.2 61 148.7 66 149.1 54.3 149.6 41.5 150 53.2 150.5 60.5 150.9 43.3 151.4 50.1 151.8 56.6 152.3 58.2 152.7 55.7 153.2 52.3 153.6 48.5 154.1 45.4 154.5 56.3 155 55.7 155.4 45.6 155.9 44.1 156.3 57.6 156.8 55.7 157.2 43.2 157.7 36.8 158.1 49.1 158.6 53.9 159 54.8 159.5 53.7 159.9 37 160.4 48 160.8 44.9 161.3 42.2 161.7 65.8 162.2 47.1 162.6 48.8 163.1 44.7 163.5 51.5 164 54.7 164.4 44.4 164.9 46 165.3 42.9 165.8 38.7 166.2 44.4 166.7 47.9 167.1 45.4 167.6 43.4 168 31.8 M172.1 81.3 171.3 94.1 175.6 104.8 173.1 90.9 177.2 99.8 176.2 101.8 175.6 109.7 176.6 112.7 177.5 105.7 177 117.7 178.2 122.4 177.5 131.9 179 121.5 178.4 131.2 178.2 123.8 179.2 118.3 180.2 131.4 179.7 120.3 180.3 133.4 179.5 133 180.6 136.3 183.9 124.4 185 130.9 184.7 128.5 182.1 136.1 185 140.5 184.9 128.2 186.8 119.6 185.3 122.4 186.3 125.6 186.6 116 183.9 136.9 184.4 136.8 187.6 117.6 188.8 124.3 187.9 119.4 188.2 121.9 190 122.4 192.1 110.6 190.3 116.6 188.5 102.2 190.8 104.5 192 111.1 191.7 97.2 193.5 94.1 192.3 92.7 193.8 90.8 194.5 90.7 193.5 87.6 194.5 85.9 194.1 81.6 196.1 78.8 195.9 75.6 195.8 72.9 196.8 68.6 197.1 69.3 198.5 73.2 198 60.3 198.7 61 198.9 55.5 199.5 52.5 199.9 47.7 200.4 55.4 200.8 51.7 201.3 47.2 201.7 51.7 202.2 55 202.6 48.3 203.1 46.1 203.5 46.4 204 49.1 204.4 55.4 204.9 47.1 205.3 51.2 205.8 43.4 206.2 43.3 206.7 44 207.1 44.1 207.6 47.2 208 51 208.5 49.8 208.9 44.6 209.4 45.6 209.8 46.3 210.3 45.2 210.7 44.7 211.2 51.2 211.6 44.5 212.1 49 212.5 45.5 213 47.4 213.4 44.5 213.9 50.3 214.3 48.7 214.8 48.6 215.2 44.7 215.7 48 216.1 42.3 216.6 42 217 45.9 217.5 45.4 217.9 42.7 218.4 44.6 218.8 48 219.3 40.9 219.7 43.5 220.2 45 220.6 39.2 221.1 43.8 221.5 48.6 222 42.7 222.4 45.3 222.9 42.8 223.3 47.1 223.8 47.1 224.2 47.4 224.7 49.4 225.1 43.1 225.6 49.3 226 49.7 226.5 44.5 226.9 46.7 227.4 44.1 227.8 44.3 228.3 46.5 228.7 47.3 229.2 47.2 229.6 44 230.1 48.6 230.5 48.9 231 51.2 231.4 51.4 231.9 49 232.3 50.7 232.8 47.8 233.2 52.5 233.7 46.8 234.1 47 234.6 48 235 46.9 235.5 47.4 235.9 50.5 236.4 56.1 236.8 49.4 237.3 52.2 237.7 51.4 238.2 55.1 238.6 54.8 239.1 49.6 239.5 52.3 240 57.1 240.4 55.1 240.9 48.4 241.3 48.7 241.8 51.7 242.2 51.7 242.7 55.1 243.1 56 243.6 54.7 244 56.5 244.5 57.3 244.9 56.5 245.4 49.4 245.8 58.3 246.3 55.1 246.7 53.8 247.2 53.6 247.6 51.3 248.1 51.6 248.5 52.9 249 56.2 249.4 55.7 249.9 52 250.3 58.1 250.8 57.2 251.2 56 251.7 57.3 252.1 56.9 252.6 56.8 253 55.7 253.5 54.5 253.9 57 254.4 54.6 254.8 55.5 255.3 58.7 255.7 58.6 256.2 56.1 256.6 58.4 257.1 58.2 257.5 57.2 258 60.2 258.4 57.1 258.9 59.5 259.3 55.8 259.8 56.6 260.2 56.8 260.7 54.1 261.1 59.1 261.6 59.5 262 59.3 262.5 57.6 262.9 59.2 263.4 55.1 263.8 55.3 264.3 53.4 264.7 58.2 265.2 58 265.6 57.7 266.1 56.4 266.5 60.5 267 62.3 267.4 61.8 267.9 56.1 268.3 60.6 268.8 59.3" fill="none" stroke="#FF8000" stroke-width="2.7" stroke-linejoin="round"/>
<path d="M44.7 80.1 45.2 82 45.6 83.3 46.1 84.3 46.5 85.9 47 85.4 47.4 87.1 47.9 87.5 48.3 87.8 48.8 89.4 49.2 91.1 49.7 91.5 50.1 93.1 50.6 95.2 51 95.9 51.5 97.1 51.9 98.1 52.4 99 52.8 98.9 53.3 102.2 53.7 101.6 54.2 104 54.6 104.9 55.1 106.2 55.5 107.4 56 108.1 56.4 110.1 56.9 109.6 57.3 112.2 57.8 111.4 58.2 114.6 58.7 114.4 59.1 116.1 59.6 118 60 116.4 60.5 118.8 60.9 120.6 61.4 121.8 61.8 123.2 62.3 123.7 62.7 124.7 63.2 125.5 63.6 126.7 64.1 127.7 64.5 129.5 65 130 65.4 131.5 65.9 133.5 66.3 134.4 66.8 134.6 67.2 136.1 67.7 138 68.1 138.2 68.6 138.5 69 140.3 69.5 142.6 69.9 143.4 70.4 144.6 70.8 146.5 71.3 145.9 71.7 148.7 72.2 146.9 72.6 146.4 73.1 147.7 73.5 144.8 74 144.7 74.4 144.3 74.9 142.6 75.3 141.7 75.8 140.9 76.2 139 76.7 137.2 77.1 136.4 77.6 135.3 78 133.1 78.5 128.3 78.9 128.8 79.4 126.3 79.8 124.1 80.3 121.2 80.7 119.8 81.2 118.1 81.6 115.3 82.1 115.7 82.5 113.9 83 112.1 83.4 110.4 83.9 111.3 84.3 110 84.8 109.9 85.2 108.8 85.7 111.6 86.1 110.9 86.6 114 87 112.5 87.5 116 87.9 118.1 88.4 118.6 88.8 122.8 89.3 125 89.7 127.4 90.2 130.1 90.6 131.9 91.1 135 91.5 137 92 138.8 92.4 139.8 92.9 142 93.3 145.6 93.8 146.2 94.2 148.5 94.7 150.2 95.1 153.1 95.6 155.1 96 156.6 96.5 157.8 96.9 159.5 97.4 160 97.8 161.4 98.3 160 98.7 159.4 99.2 157.7 99.6 153.5 100.1 152.3 100.5 149.2 101 144.9 101.4 141.2 101.9 137.8 102.3 134.8 102.8 132.2 103.2 128.4 103.7 125.5 104.1 123.1 104.6 118.2 105 114.5 105.5 111.6 105.9 106.8 106.4 105.4 106.8 101.1 107.3 102.5 107.7 86.8 108.2 87.3 108.6 81.8 109.1 77 109.5 69.5 110 84.8 110.4 67.5 110.9 67.9 111.3 71.7 111.8 67.7 112.2 78.2 112.7 57.2 113.1 64 113.6 61.6 114 64.4 114.5 71 114.9 60.5 115.4 51 115.8 64.9 116.3 57.1 116.7 68.4 117.2 65.6 117.6 78.3 118.1 67.6 118.5 58.2 119 66.2 119.4 70.9 119.9 64.1 120.3 63.2 120.8 61.4 121.2 60.3 121.7 56.7 122.1 71 122.6 65.3 123 52.8 123.5 69.5 123.9 62.2 124.4 63.3 124.8 62.7 125.3 69.4 125.7 46.3 126.2 60.8 126.6 64.4 127.1 59.6 127.5 49.3 128 51.6 128.4 61.3 128.9 69 129.3 46.6 129.8 55.3 130.2 61 130.7 60.3 131.1 62.1 131.6 66 132 63.2 132.5 48.3 132.9 55.7 133.4 50.3 133.8 57.2 134.3 66.8 134.7 63.5 135.2 71.6 135.6 65.2 136.1 63.1 136.5 62.4 137 51.3 137.4 54.5 137.9 58.9 138.3 59.7 138.8 58.5 139.2 48.6 139.7 47.6 140.1 46.9 140.6 65.1 141 52.8 141.5 58.3 141.9 52.6 142.4 51.7 142.8 51 143.3 49.9 143.7 52.4 144.2 56.5 144.6 43.9 145.1 51.4 145.5 49.2 146 48.2 146.4 54.3 146.9 59.4 147.3 42.2 147.8 50.6 148.2 55.6 148.7 54 149.1 39.8 149.6 51.5 150 46.2 150.5 45.7 150.9 52.1 151.4 42 151.8 48.7 152.3 51.7 152.7 43.3 153.2 41.2 153.6 57.8 154.1 40.6 154.5 52.7 155 41.8 155.4 46 155.9 42.1 156.3 45.2 156.8 44.9 157.2 38.2 157.7 42.7 158.1 47.9 158.6 38.8 159 31.1 159.5 43.3 159.9 37.4 160.4 43 160.8 38.8 161.3 36.5 161.7 38.6 162.2 41.3 162.6 40.7 163.1 32.5 163.5 31.8 164 32.1 164.4 43.1 164.9 38.1 165.3 32.7 165.8 35.3 166.2 42.3 166.7 30.7 167.1 33.6 167.6 38.7 168 38.2 M172.2 80.9 173.6 87.3 174.3 97.3 175.7 99.3 175.2 100.7 172.6 101.1 174.5 117.6 175.6 123.7 177.7 119.8 178.7 119.7 178.3 121 175.9 119.1 177.5 128.3 177.6 116.5 176.9 131.1 179.2 123.2 181.2 125.2 181.2 117.5 179.4 127.6 180.3 145 183.6 126.5 181.1 124.1 182.2 129.8 182 134.1 185.8 134.1 185.8 120.9 183.7 116.6 185.6 116.6 183.8 122.8 185.3 107.9 187.7 132 185.5 115 188.4 116.8 186.2 128.1 186.3 107.8 191 112.9 187.3 106.7 189.8 112.6 189.9 103.2 190.4 106.5 189.7 98.8 188.8 105.5 192.1 95.9 191.5 90.4 194.1 94.3 193.6 83.1 193.8 93.5 193.2 87.1 194.3 84.2 194.1 81.1 195 82.1 196.1 76.4 196.2 73.4 196.4 70.1 195.9 70.1 197.1 71.9 197.8 61.5 198.2 64.8 198.9 60.2 199.3 58.3 199.8 59.2 200.2 55.1 200.7 48.5 201.1 49.9 201.6 44.9 202 49.3 202.5 45.8 202.9 53 203.4 49.9 203.8 41.1 204.3 52.5 204.7 46.8 205.2 46.4 205.6 51.8 206.1 54.3 206.5 54.3 207 46.2 207.4 44.4 207.9 51.2 208.3 47.9 208.8 43.3 209.2 51 209.7 45.6 210.1 46.1 210.6 41.9 211 45.1 211.5 44.6 211.9 44.7 212.4 42.6 212.8 43.3 213.3 46.1 213.7 44.5 214.2 45.9 214.6 46.4 215.1 46.7 215.5 48.1 216 47 216.4 50.7 216.9 48.5 217.3 44.2 217.8 46 218.2 47.5 218.7 45.9 219.1 50.3 219.6 41.8 220 48.5 220.5 49 220.9 44.2 221.4 44 221.8 54.3 222.3 49.2 222.7 49.1 223.2 45.8 223.6 50.9 224.1 47.4 224.5 47.7 225 50.7 225.4 52.6 225.9 49.5 226.3 45.7 226.8 49.6 227.2 46 227.7 53.1 228.1 49.1 228.6 47.7 229 48 229.5 50 229.9 52.3 230.4 54.4 230.8 52.7 231.3 47.2 231.7 49 232.2 52.9 232.6 50.3 233.1 52.6 233.5 48.7 234 47 234.4 52.3 234.9 53.4 235.3 56.3 235.8 52.9 236.2 54.4 236.7 58.5 237.1 56.5 237.6 54.1 238 52.2 238.5 56.8 238.9 53.5 239.4 59.2 239.8 56.8 240.3 57.3 240.7 60.2 241.2 56.7 241.6 58 242.1 54.8 242.5 56.8 243 57.4 243.4 56.8 243.9 60.6 244.3 56.1 244.8 58.7 245.2 55.1 245.7 56.7 246.1 50.9 246.6 59.2 247 57.8 247.5 58 247.9 55.9 248.4 56.3 248.8 56.8 249.3 57.3 249.7 61.4 250.2 54.5 250.6 67.4 251.1 61.8 251.5 59.3 252 65.5 252.4 58.1 252.9 60.7 253.3 55.7 253.8 64.4 254.2 60.1 254.7 61.6 255.1 63.4 255.6 58.3 256 62.5 256.5 62.2 256.9 65.8 257.4 64.8 257.8 56.9 258.3 63.7 258.7 58.7 259.2 60.8 259.6 62.4 260.1 68.6 260.5 58.3 261 62.9 261.4 61.6 261.9 64.6 262.3 65.4 262.8 63.3 263.2 61.6 263.7 66.6 264.1 64.7 264.6 68.8 265 69.4 265.5 70.1 265.9 66.7 266.4 65.5 266.8 66.8 267.3 68.8 267.7 70 268.2 70.7 268.6 71" fill="none" stroke="#FF0000" stroke-width="2.7" stroke-linejoin="round"/>
</g>
<line x1="44.5" y1="74.0" x2="269.5" y2="74.0" stroke="#111" stroke-width="1"/>
<path d="M44.5 14.5H168.6M172.0 14.5H269.5V178.5H172.0M168.6 178.5H44.5Z" fill="none" stroke="#222" stroke-width="1"/>
<line x1="44.5" y1="14.5" x2="44.5" y2="178.5" stroke="#222" stroke-width="1"/>
<line x1="166.6" y1="17.5" x2="170.2" y2="11.5" stroke="#222" stroke-width="1.1"/>
<line x1="170.6" y1="17.5" x2="174.2" y2="11.5" stroke="#222" stroke-width="1.1"/>
<line x1="166.6" y1="181.5" x2="170.2" y2="175.5" stroke="#222" stroke-width="1.1"/>
<line x1="170.6" y1="181.5" x2="174.2" y2="175.5" stroke="#222" stroke-width="1.1"/>
<line x1="44.7" y1="178.5" x2="44.7" y2="175.5" stroke="#222" stroke-width="1"/>
<line x1="88.8" y1="178.5" x2="88.8" y2="175.5" stroke="#222" stroke-width="1"/>
<line x1="132.8" y1="178.5" x2="132.8" y2="175.5" stroke="#222" stroke-width="1"/>
<line x1="66.7" y1="178.5" x2="66.7" y2="176.5" stroke="#222" stroke-width="1"/>
<line x1="110.8" y1="178.5" x2="110.8" y2="176.5" stroke="#222" stroke-width="1"/>
<line x1="154.8" y1="178.5" x2="154.8" y2="176.5" stroke="#222" stroke-width="1"/>
<line x1="203.4" y1="178.5" x2="203.4" y2="175.5" stroke="#222" stroke-width="1"/>
<line x1="247.4" y1="178.5" x2="247.4" y2="175.5" stroke="#222" stroke-width="1"/>
<line x1="181.3" y1="178.5" x2="181.3" y2="176.5" stroke="#222" stroke-width="1"/>
<line x1="225.4" y1="178.5" x2="225.4" y2="176.5" stroke="#222" stroke-width="1"/>
<line x1="44.5" y1="29.4" x2="47.5" y2="29.4" stroke="#222" stroke-width="1"/>
<line x1="44.5" y1="74" x2="47.5" y2="74" stroke="#222" stroke-width="1"/>
<line x1="44.5" y1="118.6" x2="47.5" y2="118.6" stroke="#222" stroke-width="1"/>
<line x1="44.5" y1="163.3" x2="47.5" y2="163.3" stroke="#222" stroke-width="1"/>
<line x1="44.5" y1="51.7" x2="46.5" y2="51.7" stroke="#222" stroke-width="1"/>
<line x1="44.5" y1="96.3" x2="46.5" y2="96.3" stroke="#222" stroke-width="1"/>
<line x1="44.5" y1="141" x2="46.5" y2="141" stroke="#222" stroke-width="1"/>
<g clip-path="url(#cb)" stroke-linecap="round">
<path d="M313.2 83.4 313.6 79.7 314.1 79.2 314.5 84.3 315 83 315.4 82.6 315.9 82.1 316.3 78.4 316.8 76.4 317.2 85.4 317.7 82 318.1 81.2 318.6 89.3 319 80.8 319.5 85.3 319.9 84.8 320.4 87.5 320.8 87.1 321.3 88.7 321.7 87.8 322.2 82.4 322.6 83.6 323.1 93.1 323.5 87.1 324 93.2 324.4 86.6 324.9 88.7 325.3 86.8 325.8 86.3 326.2 92 326.7 88.2 327.1 90.1 327.6 81.4 328 87.5 328.5 90 328.9 92.4 329.4 90.6 329.8 90.7 330.3 91.7 330.7 92.2 331.2 87.1 331.6 83.3 332.1 88.8 332.5 92.4 333 84.1 333.4 87.2 333.9 87.4 334.3 94.1 334.8 90.3 335.2 99.7 335.7 93.3 336.1 90.1 336.6 99.7 337 88 337.5 89.6 337.9 85.8 338.4 90.1 338.8 90.1 339.3 99.4 339.7 96.4 340.2 99.5 340.6 96.3 341.1 92.5 341.5 93.5 342 85.7 342.4 88.4 342.9 91.6 343.3 90 343.8 91.8 344.2 95.5 344.7 87 345.1 89.4 345.6 88.9 346 80.1 346.5 81.1 346.9 86.6 347.4 89.2 347.8 88.5 348.3 85.4 348.7 89.7 349.2 87.8 349.6 89 350.1 84.5 350.5 90.8 351 89.7 351.4 94.7 351.9 89.6 352.3 88.3 352.8 92.4 353.2 88.9 353.7 87.4 354.1 89.3 354.6 88.7 355 84.3 355.5 90.4 355.9 93 356.4 90.4 356.8 89.5 357.3 92 357.7 93.4 358.2 92.1 358.6 94.9 359.1 87.7 359.5 90.2 360 92.3 360.4 88.3 360.9 90.1 361.3 88 361.8 92.7 362.2 92 362.7 91.1 363.1 88.1 363.6 91.6 364 88.5 364.5 93.5 364.9 92.5 365.4 95.6 365.8 93.9 366.3 93.9 366.7 95.5 367.2 88.6 367.6 87.3 368.1 90.3 368.5 92.2 369 83.7 369.4 80.6 369.9 92.1 370.3 91.2 370.8 96.1 371.2 96.1 371.7 94.6 372.1 88.2 372.6 89.4 373 93.4 373.5 90.5 373.9 87.7 374.4 85.6 374.8 96.2 375.3 86.1 375.7 95.7 376.2 92.4 376.6 88.7 377.1 84.6 377.5 92.7 378 94.7 378.4 95.9 378.9 95.9 379.3 93.8 379.8 101.9 380.2 98.1 380.7 98.3 381.1 102.5 381.6 108.3 382 97.8 382.5 95.3 382.9 98.8 383.4 97.5 383.8 101.2 384.3 101.6 384.7 85.7 385.2 102.9 385.6 104.1 386.1 105.6 386.5 101.9 387 105.5 387.4 112.4 387.9 100 388.3 99.5 388.8 107.3 389.2 113.1 389.7 95.4 390.1 99 390.6 117.3 391 100.4 391.5 97.2 391.9 101.2 392.4 101.2 392.8 101.6 393.3 103.5 393.7 106.5 394.2 102.3 394.6 101.4 395.1 104.6 395.5 107 396 98.2 396.4 98.1 396.9 97.6 397.3 96.5 397.8 102.9 398.2 98.4 398.7 99.8 399.1 100.1 399.6 102.6 400 102.7 400.5 99.1 400.9 107.1 401.4 99 401.8 109.4 402.3 106 402.7 99.4 403.2 95.8 403.6 102.6 404.1 109.4 404.5 99 405 101 405.4 103.4 405.9 103.4 406.3 100.8 406.8 96.3 407.2 99.3 407.7 98 408.1 103.3 408.6 102 409 100.9 409.5 103.3 409.9 99.2 410.4 101 410.8 98.4 411.3 102.8 411.7 100.7 412.2 97.4 412.6 101.7 413.1 99.5 413.5 102.2 414 92.3 414.4 102 414.9 95.4 415.3 100.9 415.8 95.2 416.2 102.2 416.7 81.7 417.1 98.4 417.6 100.7 418 97.4 418.5 95 418.9 93.4 419.4 98.6 419.8 97.9 420.3 94.9 420.7 93.6 421.2 97.5 421.6 94 422.1 97.6 422.5 94.2 423 104.2 423.4 100.7 423.9 99.7 424.3 87.2 424.8 90 425.2 93.3 425.7 92.2 426.1 91.8 426.6 87 427 94 427.5 89 427.9 91.9 428.4 93.2 428.8 93.8 429.3 87.8 429.7 94.3 430.2 88.1 430.6 94.5 431.1 90.5 431.5 91.5 432 85.5 432.4 87.8 432.9 81 433.3 79.6 433.8 89 434.2 96 434.7 91 435.1 91.6 435.6 93.6 436 90.7 436.5 87.2 436.9 88.8 M441.1 96.5 440.8 84.8 441.4 96 443.8 99 445.2 101.1 441.6 98.8 442.3 100.2 445.3 92.8 444 103.4 444.5 104.1 445 105.7 446.7 109.9 447.1 105.1 447.4 111.1 449.8 115.9 448.3 112.8 448.9 119 449.3 109.4 449.5 119.3 450.9 114.8 449.6 116.4 451.3 122.5 448.2 112.6 450.8 122.3 451.4 125.6 454 123.7 452.3 125.5 451.6 129 453.1 127.9 453.4 129.8 452.8 130.6 455.4 132.9 455.6 132 454.8 130 458.3 126.1 457.7 119.5 456.9 112.8 458.5 129.4 458.5 117.1 456.1 121 460.3 114 458.8 110.2 458 109 461.9 110.1 460.2 102.3 460.4 101.2 461.3 103.4 461.7 84.9 464.9 95.2 463.5 90.9 463.7 89.4 462.2 82.3 464.3 86.5 464.3 73.1 466.5 90.3 466.1 69.5 466.4 79 467.6 82.3 467.5 76.5 467.1 76.3 468.3 68.1 468.5 77 469.7 58.9 469.4 60.7 469.8 55.1 470.4 54.6 470.4 56 471.3 56.7 471.8 59.3 472.2 56.1 472.7 53.8 473.1 55.8 473.6 54.8 474 57 474.5 60.5 474.9 54 475.4 55.3 475.8 53 476.3 60.9 476.7 51.9 477.2 52.3 477.6 53.4 478.1 54.9 478.5 53.3 479 50.4 479.4 53.5 479.9 56.8 480.3 52.9 480.8 58.1 481.2 56.1 481.7 53.8 482.1 57 482.6 56.6 483 62.2 483.5 57.5 483.9 53.3 484.4 53.3 484.8 56 485.3 61.1 485.7 54.7 486.2 56.4 486.6 60.6 487.1 59.3 487.5 58.9 488 55.9 488.4 59 488.9 61.5 489.3 60 489.8 61.7 490.2 57.5 490.7 60 491.1 56.8 491.6 58.9 492 58.7 492.5 53 492.9 63.9 493.4 61.9 493.8 60.4 494.3 63 494.7 60.5 495.2 62.9 495.6 60.2 496.1 60.7 496.5 62.9 497 59.6 497.4 60 497.9 61.6 498.3 60.4 498.8 62.3 499.2 61.6 499.7 63.8 500.1 61.7 500.6 63 501 63 501.5 62.5 501.9 65.6 502.4 63.3 502.8 63.6 503.3 63.9 503.7 64.9 504.2 65.8 504.6 63 505.1 64.6 505.5 63.6 506 65.3 506.4 64.7 506.9 64.9 507.3 69.4 507.8 66.4 508.2 65.6 508.7 69.1 509.1 71 509.6 66.2 510 68.4 510.5 69.4 510.9 76.2 511.4 76.5 511.8 65.6 512.3 65 512.7 71.1 513.2 70.2 513.6 67.6 514.1 69.3 514.5 66.5 515 66.9 515.4 66.5 515.9 67.3 516.3 72.1 516.8 68.1 517.2 70.3 517.7 71 518.1 69.2 518.6 75.7 519 71.7 519.5 71 519.9 73.4 520.4 70.5 520.8 71.7 521.3 69.7 521.7 69.8 522.2 72.8 522.6 71 523.1 72.8 523.5 75.5 524 63.2 524.4 72.4 524.9 74.8 525.3 70.2 525.8 71.4 526.2 72.8 526.7 73.7 527.1 77.9 527.6 71.6 528 72.3 528.5 74 528.9 76.3 529.4 73.1 529.8 73.3 530.3 76.5 530.7 75.5 531.2 74.9 531.6 74.8 532.1 74.6 532.5 72.9 533 76.6 533.4 77 533.9 78.3 534.3 75.1 534.8 75 535.2 66.9 535.7 78.1 536.1 76.1 536.6 76.2 537 73.8 537.5 77.4 537.9 73.3 538.4 77" fill="none" stroke="#4B0C8F" stroke-width="2.3" stroke-linejoin="round"/>
<path d="M313.2 75.1 313.6 74.6 314.1 78.5 314.5 73.8 315 81.1 315.4 76.1 315.9 77.1 316.3 74 316.8 75.1 317.2 81.6 317.7 77.7 318.1 80.2 318.6 92.7 319 80.6 319.5 83.6 319.9 80.5 320.4 80.6 320.8 82.8 321.3 81.2 321.7 81.6 322.2 84.2 322.6 83 323.1 84.6 323.5 88.1 324 85.7 324.4 88.6 324.9 88.6 325.3 88.5 325.8 86.6 326.2 80.1 326.7 89.7 327.1 88.9 327.6 84.9 328 88.7 328.5 82 328.9 91.9 329.4 91.1 329.8 89.1 330.3 103.4 330.7 94.7 331.2 91.7 331.6 89.7 332.1 96.8 332.5 93.8 333 94.2 333.4 89.7 333.9 92.5 334.3 91.2 334.8 91.9 335.2 93.2 335.7 94.8 336.1 94.6 336.6 93.7 337 95.7 337.5 96.8 337.9 94.8 338.4 88.9 338.8 93 339.3 89.6 339.7 95.8 340.2 95.5 340.6 98.1 341.1 102.4 341.5 94 342 94.8 342.4 94.5 342.9 100.8 343.3 95.2 343.8 92.1 344.2 93.3 344.7 95.3 345.1 94.7 345.6 92.5 346 91.4 346.5 94.2 346.9 93.5 347.4 90.6 347.8 90.5 348.3 91.7 348.7 90.8 349.2 89.2 349.6 89.3 350.1 87.5 350.5 85 351 87.8 351.4 85.7 351.9 89.4 352.3 91.2 352.8 89.5 353.2 89.7 353.7 91.5 354.1 90.7 354.6 91.2 355 90.5 355.5 89.5 355.9 87.7 356.4 86 356.8 96.8 357.3 84.7 357.7 87.7 358.2 90.6 358.6 90 359.1 91.5 359.5 88.1 360 92.2 360.4 101.5 360.9 93.5 361.3 97.8 361.8 94.3 362.2 95.5 362.7 91.4 363.1 92.5 363.6 94.5 364 95.2 364.5 85.7 364.9 82.1 365.4 96.2 365.8 105.7 366.3 100 366.7 98.8 367.2 96.6 367.6 98.7 368.1 97.9 368.5 101.2 369 96.6 369.4 97 369.9 96.6 370.3 97.3 370.8 98.7 371.2 98.3 371.7 96.5 372.1 97.7 372.6 89.4 373 98.4 373.5 90 373.9 93.3 374.4 92.6 374.8 88.9 375.3 97.4 375.7 84.8 376.2 95.1 376.6 94.1 377.1 93.8 377.5 93.8 378 94.2 378.4 88.7 378.9 94.9 379.3 94.3 379.8 95.1 380.2 88.5 380.7 89.1 381.1 88.9 381.6 93.4 382 97.7 382.5 95.6 382.9 79.9 383.4 91.3 383.8 98.1 384.3 95.4 384.7 93.5 385.2 92.2 385.6 93.9 386.1 85.3 386.5 95.5 387 93.3 387.4 93.4 387.9 92.7 388.3 81.6 388.8 94.9 389.2 95.1 389.7 91.6 390.1 88.5 390.6 101.5 391 90.4 391.5 90.8 391.9 95.3 392.4 88.8 392.8 95.5 393.3 107.6 393.7 92.8 394.2 94 394.6 90.3 395.1 97.8 395.5 90.4 396 98.1 396.4 95.5 396.9 96.8 397.3 99.3 397.8 90.2 398.2 104.9 398.7 94.8 399.1 83.1 399.6 95.5 400 94.2 400.5 88.4 400.9 91.5 401.4 89.4 401.8 89.8 402.3 96.5 402.7 91.4 403.2 88.9 403.6 88.2 404.1 93.8 404.5 82.7 405 86.4 405.4 91.8 405.9 88.6 406.3 93.8 406.8 95.6 407.2 83.9 407.7 87.2 408.1 83.5 408.6 90.3 409 88.9 409.5 81.9 409.9 89.9 410.4 95.1 410.8 85 411.3 86.9 411.7 88 412.2 91 412.6 90.1 413.1 89.2 413.5 82.8 414 86.3 414.4 90.7 414.9 91.6 415.3 84.5 415.8 85.4 416.2 85.6 416.7 86.5 417.1 86.1 417.6 85.7 418 82.3 418.5 79.1 418.9 85.1 419.4 83.1 419.8 83.2 420.3 82.6 420.7 76.9 421.2 76 421.6 75.4 422.1 84.7 422.5 81.3 423 74 423.4 66.2 423.9 79.7 424.3 70.6 424.8 79.5 425.2 73.2 425.7 83.7 426.1 62.8 426.6 79.6 427 79 427.5 78.8 427.9 77.1 428.4 72.3 428.8 80.5 429.3 76.2 429.7 79.9 430.2 75.6 430.6 82.6 431.1 80.1 431.5 73.2 432 79.8 432.4 72.3 432.9 78.2 433.3 73.8 433.8 81.9 434.2 78.7 434.7 72.4 435.1 76.9 435.6 82.3 436 72.1 436.5 77.4 436.9 74.6 M441.5 97.6 441.8 99.4 440.4 103.5 443.4 104.2 443.6 108.2 442.4 108 444.4 104.5 443.7 102.7 442.7 112.6 446.4 108.8 444 112.2 445.1 112.7 446.5 116.8 449.5 118.7 447.4 114.9 447.9 118 447.7 121.6 447.6 120.3 450.8 115 451.1 119.8 449.1 133.5 449.7 132.3 451.6 131.6 453.7 129.1 451.4 133.5 451.6 132.5 454.9 127.1 454 132.7 453.2 131.4 453.2 138.4 456 135.1 457.1 129.3 457.7 130.7 455.8 135.7 454.9 133.1 458.8 131.9 456 127.9 458.6 126.4 454.2 113.3 458.9 116.4 458.9 119.8 460.5 118.4 458.7 120.8 460.8 108.5 459.5 106.1 461.8 111.2 462 98 464.2 97.3 463.4 99.3 462.4 96.7 464.4 92.9 464.4 94.9 465.3 88.9 466 89.8 464.9 82.1 466.5 87.9 467.2 84.9 467.5 76.2 466.6 74.4 468.7 72.9 467.7 71.5 468.1 67.3 468.8 66.3 468.9 69.5 471 55.6 469.9 61.3 471 63.3 471.4 57.2 471.8 55.2 472.2 59.5 472.7 55.8 473.1 57.5 473.6 56.5 474 53.3 474.5 55 474.9 57.2 475.4 56.9 475.8 53.8 476.3 50.2 476.7 53.4 477.2 54.2 477.6 52.9 478.1 56.7 478.5 55 479 54.7 479.4 51.4 479.9 54.5 480.3 52.5 480.8 53.9 481.2 53.4 481.7 51.5 482.1 51.3 482.6 54.1 483 46.9 483.5 50.4 483.9 52.3 484.4 55.9 484.8 51.2 485.3 53.3 485.7 53.9 486.2 55.3 486.6 53.6 487.1 55.9 487.5 57.8 488 52.1 488.4 58 488.9 54.3 489.3 57.1 489.8 59.3 490.2 57.7 490.7 56.8 491.1 53.2 491.6 60 492 62.2 492.5 58.5 492.9 61.5 493.4 57.3 493.8 62.4 494.3 57.5 494.7 59.4 495.2 59.2 495.6 60 496.1 66.3 496.5 62.9 497 62.1 497.4 60.8 497.9 61 498.3 63.8 498.8 63.8 499.2 65.2 499.7 62.9 500.1 64.5 500.6 63.5 501 65.4 501.5 66.6 501.9 69.5 502.4 67.7 502.8 60.7 503.3 65.6 503.7 65.4 504.2 59 504.6 64.7 505.1 66.9 505.5 62.1 506 68.8 506.4 67 506.9 65.4 507.3 67.8 507.8 65.3 508.2 63.4 508.7 65.5 509.1 63.6 509.6 62.9 510 68.1 510.5 70.1 510.9 69.8 511.4 66.3 511.8 71.9 512.3 65 512.7 69.4 513.2 72 513.6 66.4 514.1 69.2 514.5 70.6 515 69 515.4 69.3 515.9 70.8 516.3 76.1 516.8 67 517.2 68.2 517.7 66.4 518.1 71 518.6 70.4 519 71.7 519.5 74.3 519.9 71.2 520.4 74.6 520.8 70.2 521.3 72.1 521.7 72.5 522.2 72.1 522.6 73.1 523.1 72.7 523.5 71.4 524 74.2 524.4 65.2 524.9 71.5 525.3 70 525.8 82.2 526.2 73.5 526.7 73.2 527.1 72.2 527.6 73.3 528 73.2 528.5 76.2 528.9 71.8 529.4 71.5 529.8 73.6 530.3 71.7 530.7 75.2 531.2 74.7 531.6 75 532.1 74.5 532.5 77.2 533 74.9 533.4 80.4 533.9 73.7 534.3 74.6 534.8 74.8 535.2 75.7 535.7 74.6 536.1 74.7 536.6 73.7 537 73.7 537.5 81 537.9 76.2 538.4 76.1" fill="none" stroke="#0A0A8A" stroke-width="2.4" stroke-linejoin="round"/>
<path d="M313.2 80.5 313.6 82 314.1 84.2 314.5 79.3 315 85.8 315.4 85.3 315.9 82.5 316.3 85.1 316.8 85.1 317.2 89.2 317.7 92 318.1 86.8 318.6 83.4 319 93.5 319.5 87.7 319.9 89.6 320.4 89.3 320.8 94.6 321.3 91.1 321.7 89.4 322.2 92.1 322.6 91.1 323.1 86.7 323.5 94.4 324 93.9 324.4 93.3 324.9 93.5 325.3 90.5 325.8 99.2 326.2 94.9 326.7 96.7 327.1 94 327.6 96.4 328 99.2 328.5 96.2 328.9 99.7 329.4 98.5 329.8 98.2 330.3 99.5 330.7 104.2 331.2 96.7 331.6 101.7 332.1 105.6 332.5 100.6 333 107.7 333.4 104.9 333.9 104.6 334.3 103.6 334.8 105.8 335.2 101.9 335.7 109 336.1 108.4 336.6 111.1 337 112 337.5 110.5 337.9 113.8 338.4 108.2 338.8 111.8 339.3 112.3 339.7 112.9 340.2 111.1 340.6 112.4 341.1 124.3 341.5 113.4 342 114.1 342.4 111.9 342.9 113.4 343.3 113.6 343.8 111.2 344.2 112.3 344.7 112.8 345.1 113.1 345.6 108 346 110.8 346.5 108.2 346.9 108.9 347.4 108.5 347.8 105.1 348.3 102.9 348.7 102.5 349.2 106.1 349.6 98.6 350.1 97.8 350.5 92.9 351 97.5 351.4 97.9 351.9 98 352.3 96.1 352.8 94.4 353.2 93 353.7 88.9 354.1 93.7 354.6 95.6 355 98.8 355.5 93.8 355.9 91.8 356.4 90.5 356.8 86.1 357.3 91.3 357.7 94.2 358.2 94.3 358.6 89.8 359.1 94.1 359.5 90.3 360 96.6 360.4 95.5 360.9 99.2 361.3 98.9 361.8 97.3 362.2 95.2 362.7 88.7 363.1 96.1 363.6 96.6 364 98.7 364.5 100.7 364.9 101.9 365.4 103.6 365.8 102.6 366.3 98.8 366.7 101 367.2 103.8 367.6 103.9 368.1 101.4 368.5 104.2 369 105.9 369.4 108.2 369.9 105.7 370.3 108.7 370.8 104.7 371.2 116.6 371.7 104.9 372.1 100.7 372.6 103 373 101 373.5 101.7 373.9 99.6 374.4 92.7 374.8 87 375.3 87.3 375.7 92.9 376.2 92.3 376.6 89.6 377.1 88.5 377.5 90.7 378 93.5 378.4 84.8 378.9 90.1 379.3 93.4 379.8 94.5 380.2 88.4 380.7 92.1 381.1 93.5 381.6 95.4 382 93.9 382.5 91.8 382.9 86 383.4 93.1 383.8 86.9 384.3 96.9 384.7 88 385.2 93.2 385.6 94 386.1 93.4 386.5 88.5 387 99.1 387.4 91.5 387.9 89.6 388.3 90.7 388.8 90.7 389.2 91.1 389.7 93.5 390.1 91.2 390.6 91.9 391 91.7 391.5 92.9 391.9 90.6 392.4 89 392.8 95.9 393.3 90.6 393.7 93.3 394.2 94 394.6 91.1 395.1 95.3 395.5 93.1 396 92.3 396.4 94.3 396.9 90.4 397.3 92.7 397.8 92.7 398.2 85 398.7 96.1 399.1 90.6 399.6 90.7 400 90.8 400.5 92.8 400.9 87.6 401.4 86.9 401.8 81.5 402.3 85.4 402.7 81.2 403.2 97.6 403.6 87.1 404.1 87.8 404.5 94.5 405 83.9 405.4 78.5 405.9 90.6 406.3 92.2 406.8 82.1 407.2 90.2 407.7 90 408.1 87.9 408.6 86.4 409 85.8 409.5 84.9 409.9 84.1 410.4 83.1 410.8 85.9 411.3 86.6 411.7 86.6 412.2 85 412.6 84.1 413.1 85.5 413.5 87.3 414 81.7 414.4 84.8 414.9 82 415.3 85.5 415.8 74.5 416.2 84.8 416.7 82.6 417.1 86.8 417.6 83.2 418 80.2 418.5 85.4 418.9 81.3 419.4 74.9 419.8 75.3 420.3 86.5 420.7 78.7 421.2 79.8 421.6 82.7 422.1 78.7 422.5 76.5 423 82 423.4 82.2 423.9 75.4 424.3 80.4 424.8 81.2 425.2 78.2 425.7 75.3 426.1 79.9 426.6 77.2 427 80.6 427.5 72.5 427.9 77.4 428.4 81.6 428.8 79.4 429.3 75.2 429.7 74.2 430.2 79.1 430.6 76.8 431.1 77.3 431.5 82.6 432 75.4 432.4 70.3 432.9 75.8 433.3 77.7 433.8 73.1 434.2 63.8 434.7 71.4 435.1 75 435.6 67.4 436 75.4 436.5 77.6 436.9 73.8 M441.4 102.5 441 96.9 440.2 97.1 442.2 107.2 440.7 122 441.8 106.8 444.8 106.7 444.9 108.1 444.1 114.7 444.3 113 448.1 114 445.9 116.6 447.1 119.2 445.7 123.4 448.3 119.1 446.7 119.3 449 112.4 447.7 118.7 449.6 126 449.5 123.4 448.9 127.4 451.2 136.1 450.9 128.7 454.1 132.2 452.7 131.3 453.8 135.3 452.2 138.3 453.5 125.9 454.1 132.5 454.2 137.7 457.2 134.1 453.8 134 454.8 135 457.7 138.3 457.7 130.8 458.6 135.2 456.2 132.5 457.5 127.2 456.6 125.2 457.7 126.1 456.9 122.8 459.7 123.1 459.1 122.3 460.1 117.2 462.6 123.2 464.1 118.5 463.2 108.3 462.6 99.4 463.2 107 463 103.8 461.9 95.9 465 98 465 89.6 465.2 86.8 465 92.8 465.9 84.5 468.5 77.9 466.7 79.6 466.9 74.1 468.2 74.1 467.5 72.1 469.2 62.9 468.7 73.8 469.1 67.8 469.3 62.9 469.9 62.2 470.7 63.7 471.2 65.1 471.8 61.7 472.2 55.1 472.7 52.6 473.1 54.5 473.6 56 474 57.8 474.5 49.6 474.9 55 475.4 54.7 475.8 55.6 476.3 53 476.7 53.5 477.2 53.6 477.6 51 478.1 54.7 478.5 52.7 479 53 479.4 52.8 479.9 56.4 480.3 52.5 480.8 54.9 481.2 57.5 481.7 57 482.1 53.9 482.6 53.8 483 53.4 483.5 54.3 483.9 57.2 484.4 52.3 484.8 57 485.3 56.6 485.7 52.3 486.2 58.5 486.6 56.8 487.1 54.6 487.5 57.2 488 55.8 488.4 54.4 488.9 55.8 489.3 58.5 489.8 58.3 490.2 56.9 490.7 61.5 491.1 63.3 491.6 57.4 492 64.7 492.5 57.2 492.9 58.3 493.4 62.8 493.8 67 494.3 61.7 494.7 59.2 495.2 61.7 495.6 61.7 496.1 60 496.5 60 497 64.4 497.4 64.1 497.9 59.5 498.3 65 498.8 63.7 499.2 63.8 499.7 60.9 500.1 63.2 500.6 60.8 501 62.1 501.5 63.4 501.9 62.7 502.4 64.9 502.8 61.4 503.3 65.9 503.7 62.3 504.2 63.7 504.6 68.1 505.1 65.5 505.5 66.9 506 66.3 506.4 68.2 506.9 73.2 507.3 70 507.8 67.7 508.2 65.4 508.7 70.4 509.1 71.8 509.6 67.7 510 65 510.5 70.4 510.9 70.1 511.4 68.2 511.8 65.5 512.3 70.2 512.7 72.4 513.2 69.4 513.6 68.5 514.1 71.5 514.5 70.4 515 74.2 515.4 67.4 515.9 67.7 516.3 65.8 516.8 67.9 517.2 72.5 517.7 70.1 518.1 69 518.6 76.1 519 71.1 519.5 69.9 519.9 72.7 520.4 68.7 520.8 73.1 521.3 70.3 521.7 71.2 522.2 71.6 522.6 72.9 523.1 71.1 523.5 74 524 74.4 524.4 74.5 524.9 71.1 525.3 71.8 525.8 65.6 526.2 72.9 526.7 71.3 527.1 73.5 527.6 70.4 528 73.5 528.5 73.9 528.9 67.8 529.4 73.7 529.8 75.6 530.3 72.4 530.7 73 531.2 75.6 531.6 73 532.1 73.5 532.5 78.5 533 77.3 533.4 71.7 533.9 76.3 534.3 74.1 534.8 73 535.2 73.9 535.7 83.7 536.1 73.7 536.6 77.1 537 75.5 537.5 77.5 537.9 80.1 538.4 72.7" fill="none" stroke="#0000FF" stroke-width="2.5" stroke-linejoin="round"/>
<path d="M313.2 86.6 313.6 86 314.1 88.6 314.5 88.6 315 86.9 315.4 91.6 315.9 90.7 316.3 92.5 316.8 95 317.2 93.4 317.7 92 318.1 93.3 318.6 96.5 319 93.4 319.5 96.7 319.9 97.5 320.4 95.8 320.8 98.4 321.3 99.7 321.7 98.3 322.2 99.4 322.6 101.5 323.1 99.4 323.5 100.6 324 104 324.4 103.3 324.9 101.7 325.3 104.5 325.8 108.1 326.2 103.6 326.7 107.8 327.1 108.4 327.6 107.7 328 109.6 328.5 108.4 328.9 112.4 329.4 113.4 329.8 110.2 330.3 112 330.7 113.2 331.2 112.8 331.6 115 332.1 113.7 332.5 116.8 333 116.3 333.4 117.4 333.9 118.9 334.3 120.4 334.8 118.3 335.2 121.7 335.7 122.7 336.1 122 336.6 125.3 337 122.8 337.5 124.2 337.9 126.8 338.4 126.4 338.8 130.7 339.3 130 339.7 133.2 340.2 129.8 340.6 130.4 341.1 133.9 341.5 130.1 342 132.9 342.4 129.5 342.9 130.5 343.3 131.3 343.8 128.7 344.2 126.2 344.7 126.3 345.1 127.7 345.6 125.3 346 124.9 346.5 122.7 346.9 121.7 347.4 119.5 347.8 116.8 348.3 117.7 348.7 115.7 349.2 111.1 349.6 112.8 350.1 113 350.5 113.2 351 107 351.4 108.1 351.9 108 352.3 107.7 352.8 105.1 353.2 106.6 353.7 104.9 354.1 105.1 354.6 104.1 355 104.9 355.5 103.6 355.9 104.5 356.4 104.1 356.8 106.2 357.3 108.2 357.7 106.5 358.2 106.2 358.6 107.9 359.1 108.4 359.5 107.7 360 111.1 360.4 111 360.9 113.3 361.3 111.8 361.8 113.3 362.2 112.8 362.7 110.8 363.1 110.8 363.6 110.4 364 110.4 364.5 112.2 364.9 110.3 365.4 110.6 365.8 110.1 366.3 113.6 366.7 111.2 367.2 111.6 367.6 110.7 368.1 112.3 368.5 110.7 369 110.6 369.4 108.3 369.9 108.5 370.3 110.8 370.8 111.3 371.2 107.3 371.7 109.7 372.1 109.3 372.6 113.2 373 106.6 373.5 106.5 373.9 105 374.4 106.1 374.8 103.9 375.3 99.2 375.7 99.9 376.2 98.6 376.6 90.4 377.1 91.1 377.5 87.9 378 85.5 378.4 85.2 378.9 85.2 379.3 80.9 379.8 84.8 380.2 88 380.7 80.7 381.1 82.1 381.6 80.4 382 85.5 382.5 83.5 382.9 87.5 383.4 82.5 383.8 77.8 384.3 85.9 384.7 82.4 385.2 88.2 385.6 86.4 386.1 73 386.5 75.6 387 83.6 387.4 80.4 387.9 74.5 388.3 81.3 388.8 88.6 389.2 85.9 389.7 79.8 390.1 84.5 390.6 87.4 391 82.6 391.5 90.4 391.9 80.4 392.4 91.6 392.8 89.3 393.3 85.2 393.7 84 394.2 83.2 394.6 79.3 395.1 86.9 395.5 88 396 85.9 396.4 83.8 396.9 83 397.3 78.7 397.8 79.6 398.2 76.3 398.7 83.9 399.1 78.1 399.6 84.9 400 78.7 400.5 86.8 400.9 87.2 401.4 86.8 401.8 85.1 402.3 79 402.7 78.8 403.2 76.9 403.6 80.9 404.1 86.1 404.5 74.8 405 88.7 405.4 76.5 405.9 73.9 406.3 79.7 406.8 82.5 407.2 76.5 407.7 73.6 408.1 84.5 408.6 72.9 409 81.1 409.5 77.5 409.9 75.1 410.4 76.6 410.8 71.8 411.3 71.5 411.7 76.9 412.2 71.3 412.6 72.2 413.1 80.8 413.5 82 414 79 414.4 77.9 414.9 73 415.3 74.2 415.8 70.6 416.2 62 416.7 73.8 417.1 73.6 417.6 76.4 418 67.4 418.5 76.5 418.9 69.5 419.4 66.4 419.8 70.1 420.3 74.5 420.7 70.5 421.2 72 421.6 66.5 422.1 71.6 422.5 73.4 423 65.6 423.4 70.6 423.9 63.2 424.3 69.2 424.8 62.1 425.2 69.4 425.7 67.5 426.1 62.8 426.6 68.4 427 62.8 427.5 66.8 427.9 62.5 428.4 68.1 428.8 63.4 429.3 71.1 429.7 66.9 430.2 67 430.6 59.3 431.1 56.1 431.5 61 432 71.2 432.4 60 432.9 68.5 433.3 68.4 433.8 60.9 434.2 62.2 434.7 68.1 435.1 61.6 435.6 60.9 436 60 436.5 62.5 436.9 61.6 M441.2 83.4 441.2 90.3 443.5 94.1 441.6 98.1 440.9 93.6 444.4 105.3 444.2 102.6 444.1 100.8 443.8 97.8 445.6 103 445.7 110.3 449.4 110.8 446.8 113.5 445.9 108.5 448.8 115.3 448.6 112.3 447.7 120.7 449.6 116 448.3 112.4 449 116.5 449.2 120 451.7 121.5 451.7 123.4 450.5 120.9 450.3 124.8 453.2 130.3 452.1 131.1 453.8 129.3 453.3 131 456 121.2 455.2 129.2 454.3 128.4 456.2 126.6 455.6 129 456.5 125 454.9 125.4 456.9 125.9 458.4 121.3 457.7 121.5 458 122.4 457.7 111.2 459.6 113 459.6 105.7 460.1 115.1 464.2 113.5 461.6 110.1 462.6 108.2 462.2 101.5 463.4 107.5 464.5 102.7 464 85.4 465.5 95.9 465.6 95.5 466.1 84.8 464.1 91.2 465.5 82.3 464 79.1 466.9 78.4 466.7 83.9 467.8 76 467.9 77.3 468.5 71.7 470.1 78.4 468.8 64.5 469.1 65.6 470.1 67.4 470.5 65.6 471.4 57.1 471.9 66.6 472.2 60.2 472.7 54.1 473.1 59.2 473.6 58.3 474 50.1 474.5 60.9 474.9 58.2 475.4 54.8 475.8 55.2 476.3 57.2 476.7 56 477.2 56.2 477.6 53.5 478.1 58.6 478.5 56.3 479 52.4 479.4 53.2 479.9 58.3 480.3 55 480.8 58.2 481.2 54.8 481.7 58.2 482.1 57.9 482.6 55.1 483 54.3 483.5 57.5 483.9 57.1 484.4 53.9 484.8 51.5 485.3 60.6 485.7 57.8 486.2 56.8 486.6 58.1 487.1 55.7 487.5 61.3 488 54 488.4 60.2 488.9 55.6 489.3 53.8 489.8 57.5 490.2 56.7 490.7 60 491.1 60.2 491.6 52.7 492 60.4 492.5 60.2 492.9 65.2 493.4 58.5 493.8 52.3 494.3 61.1 494.7 60.1 495.2 60.7 495.6 59.5 496.1 58.4 496.5 60.6 497 61.5 497.4 58.6 497.9 66.1 498.3 59.6 498.8 60.1 499.2 57 499.7 65.8 500.1 60 500.6 64.6 501 64 501.5 59.5 501.9 62 502.4 58.8 502.8 66.1 503.3 61.9 503.7 62.8 504.2 60.2 504.6 64.7 505.1 65.2 505.5 61.3 506 65.3 506.4 61.3 506.9 66.7 507.3 65.3 507.8 66.8 508.2 64.9 508.7 66.6 509.1 63.9 509.6 68.3 510 63.6 510.5 67.1 510.9 65.1 511.4 65.5 511.8 65.9 512.3 66.7 512.7 70.2 513.2 66.2 513.6 66.8 514.1 66 514.5 70.6 515 68.8 515.4 65 515.9 68.6 516.3 66.4 516.8 68.9 517.2 67.3 517.7 70.4 518.1 69 518.6 68.8 519 68 519.5 73.4 519.9 66.9 520.4 65.2 520.8 66.2 521.3 70.3 521.7 71.9 522.2 69.2 522.6 69 523.1 71.3 523.5 67 524 71.4 524.4 70.2 524.9 72.1 525.3 70.5 525.8 70.5 526.2 67.9 526.7 71.8 527.1 69 527.6 68 528 71.4 528.5 72 528.9 72.1 529.4 70.5 529.8 69.7 530.3 73 530.7 72.3 531.2 69.6 531.6 68.4 532.1 74 532.5 75.9 533 71 533.4 69.3 533.9 69 534.3 70.3 534.8 73.8 535.2 70.1 535.7 69.6 536.1 70.5 536.6 69.7 537 70.1 537.5 73.3 537.9 73.7 538.4 75.3" fill="none" stroke="#0CB80C" stroke-width="2.6" stroke-linejoin="round"/>
<path d="M313.2 89.9 313.6 89.6 314.1 96.3 314.5 94.7 315 96.2 315.4 96.2 315.9 97.8 316.3 99.4 316.8 100.3 317.2 100.2 317.7 103 318.1 103.9 318.6 104 319 104.2 319.5 105.1 319.9 105.9 320.4 108.8 320.8 109.1 321.3 112 321.7 110.9 322.2 114.5 322.6 114.9 323.1 115.5 323.5 119.2 324 119.4 324.4 121.6 324.9 123.3 325.3 123.6 325.8 123.2 326.2 125.2 326.7 127.2 327.1 125.8 327.6 128.3 328 128.1 328.5 128.6 328.9 129.3 329.4 129.5 329.8 131.5 330.3 133.4 330.7 131.1 331.2 134.3 331.6 136.1 332.1 136.3 332.5 138.9 333 137.7 333.4 140.8 333.9 141.9 334.3 142.2 334.8 141.5 335.2 145.8 335.7 143.8 336.1 145.6 336.6 144.4 337 145.5 337.5 147.9 337.9 146.3 338.4 149.7 338.8 152.5 339.3 149.3 339.7 152.2 340.2 155.2 340.6 154.8 341.1 157.5 341.5 157.2 342 155.1 342.4 154.2 342.9 157.6 343.3 158.9 343.8 155.3 344.2 156.5 344.7 150.8 345.1 152.4 345.6 149.8 346 148.4 346.5 146.6 346.9 144.7 347.4 144 347.8 140.9 348.3 142.1 348.7 137.4 349.2 138 349.6 133.9 350.1 131.7 350.5 132.6 351 130.5 351.4 128.3 351.9 128.9 352.3 123.5 352.8 124 353.2 121.2 353.7 121.2 354.1 115.4 354.6 114.7 355 112.6 355.5 110.5 355.9 108.9 356.4 110.8 356.8 111.1 357.3 110.7 357.7 112.3 358.2 110.8 358.6 115.9 359.1 115.5 359.5 116 360 117.7 360.4 117.3 360.9 118.1 361.3 119.8 361.8 121.3 362.2 123.8 362.7 127.9 363.1 127.8 363.6 132.3 364 133 364.5 137.2 364.9 136 365.4 137.7 365.8 139.5 366.3 138.6 366.7 143.4 367.2 143.6 367.6 143.7 368.1 144 368.5 145.3 369 141.8 369.4 141.4 369.9 139 370.3 136.9 370.8 134.4 371.2 129.5 371.7 124.6 372.1 123.2 372.6 119 373 116.5 373.5 112.1 373.9 110.3 374.4 107.5 374.8 103.6 375.3 101.2 375.7 100.5 376.2 93.5 376.6 88 377.1 86.4 377.5 88.4 378 82.4 378.4 84.2 378.9 79.1 379.3 81.5 379.8 72.7 380.2 80.2 380.7 72.1 381.1 71.9 381.6 74.6 382 54.2 382.5 73.4 382.9 78.7 383.4 64.1 383.8 62 384.3 63.7 384.7 68.3 385.2 63.8 385.6 57.6 386.1 58.5 386.5 54.7 387 59.8 387.4 58.3 387.9 54.3 388.3 65.1 388.8 62.5 389.2 65.9 389.7 51.2 390.1 67.5 390.6 70.8 391 59.6 391.5 54.1 391.9 50.7 392.4 66.7 392.8 60.8 393.3 63.4 393.7 60.1 394.2 51.7 394.6 57.7 395.1 60.1 395.5 55.6 396 61.8 396.4 56 396.9 65 397.3 48.8 397.8 62.1 398.2 59.7 398.7 64.5 399.1 66.9 399.6 62.7 400 60.8 400.5 56 400.9 65.1 401.4 59.6 401.8 61.4 402.3 58.6 402.7 60 403.2 55.4 403.6 73.1 404.1 60 404.5 56.7 405 56.4 405.4 60.7 405.9 56.2 406.3 62.8 406.8 58.8 407.2 60 407.7 64.6 408.1 60.1 408.6 60.5 409 61.2 409.5 65.7 409.9 57.5 410.4 64.7 410.8 62 411.3 60.5 411.7 51 412.2 58.6 412.6 49.9 413.1 54.1 413.5 55.8 414 54.5 414.4 49.8 414.9 62.1 415.3 55.7 415.8 64.2 416.2 56.7 416.7 46.7 417.1 64.3 417.6 61.7 418 65.5 418.5 54.4 418.9 44.7 419.4 56.7 419.8 49.9 420.3 50.8 420.7 49.5 421.2 48.6 421.6 60.7 422.1 48.7 422.5 42.1 423 64.1 423.4 49.7 423.9 47.5 424.3 58.3 424.8 54.7 425.2 44 425.7 58.2 426.1 57.3 426.6 54.5 427 42.2 427.5 51.9 427.9 41.5 428.4 52.8 428.8 54.9 429.3 56.3 429.7 46.7 430.2 59.3 430.6 50.6 431.1 49.9 431.5 47.4 432 54.1 432.4 54.8 432.9 51.3 433.3 47.5 433.8 58.9 434.2 53.2 434.7 56.4 435.1 54.9 435.6 52.4 436 48 436.5 48.6 436.9 49.8 M440.9 79 442.1 86.6 441.9 79.7 442.3 97 443.3 88.8 444.4 95.2 444.1 100.5 444.9 99.8 443.4 96.8 446.1 107 446.4 102.7 447.1 102.2 445.8 101.9 448.5 100.7 447 112.5 447.1 105.4 448.1 109.9 449.8 104.4 448.8 111 449.5 121 449.1 108.4 448.6 115.7 451.4 112.8 453.2 121.7 453 126.4 452 126.5 453.8 114.2 454 124.3 453 113.7 452.9 116.1 455.8 123.1 455.3 123.4 454.4 121.4 456.9 122.5 458.7 123.5 456 115.1 457.7 120.6 459.3 112.1 458.2 114.7 459.1 116.5 459.9 113.6 459.9 107.8 459.8 104.6 459.5 107.6 461.5 108.3 461.7 100.7 462.2 102.2 461.9 94.9 460.7 99.8 464 99.9 464.7 90.1 463.7 97.5 464 85.1 464.9 86 465.7 78.1 464.9 83.7 466.1 82.2 467 86.2 468 82 468.8 74.5 467 76.5 468.9 71.9 469.2 69 469.7 73.7 470 64.5 469.6 69.6 470.8 64.1 471.1 69.9 471.8 62 472.2 61.8 472.7 62 473.1 62.7 473.6 63.8 474 60.5 474.5 63.7 474.9 60.3 475.4 59 475.8 60.5 476.3 60.1 476.7 60.4 477.2 57.9 477.6 59.2 478.1 57.2 478.5 54.8 479 57.1 479.4 55.2 479.9 56 480.3 57.4 480.8 54.7 481.2 52.4 481.7 57.5 482.1 60.2 482.6 52.8 483 54.2 483.5 62.2 483.9 55.1 484.4 48 484.8 60.1 485.3 57.4 485.7 58.8 486.2 57.4 486.6 54.6 487.1 57.9 487.5 52 488 57.1 488.4 55.9 488.9 57.7 489.3 53.8 489.8 56.3 490.2 56.7 490.7 55.8 491.1 54.8 491.6 57.8 492 50.6 492.5 54.6 492.9 53.2 493.4 53.5 493.8 62.8 494.3 54.5 494.7 58 495.2 54.7 495.6 56.6 496.1 58.8 496.5 55.8 497 56.6 497.4 58.2 497.9 56.2 498.3 53.9 498.8 55.1 499.2 59.9 499.7 55.8 500.1 55.3 500.6 55.1 501 56.3 501.5 57.1 501.9 58.4 502.4 56 502.8 57.9 503.3 62.3 503.7 57 504.2 58.8 504.6 58.9 505.1 59.8 505.5 61.2 506 58.6 506.4 62.8 506.9 58.2 507.3 56.6 507.8 62.7 508.2 60.1 508.7 58.6 509.1 60 509.6 57.2 510 64 510.5 57.8 510.9 60.8 511.4 60.5 511.8 56.1 512.3 61.2 512.7 61.7 513.2 63.3 513.6 62.5 514.1 63.6 514.5 64 515 62.9 515.4 61.2 515.9 66.9 516.3 59.1 516.8 61.6 517.2 61.7 517.7 60.9 518.1 61 518.6 61.2 519 62.1 519.5 62.9 519.9 60.3 520.4 61.1 520.8 60.1 521.3 63.2 521.7 65.5 522.2 61.9 522.6 65 523.1 67.3 523.5 64.8 524 63.2 524.4 66.7 524.9 63.9 525.3 65.2 525.8 65.9 526.2 61.3 526.7 68.1 527.1 66.3 527.6 69.3 528 71 528.5 69.5 528.9 66.5 529.4 65 529.8 62.4 530.3 65.7 530.7 66.6 531.2 66.7 531.6 66.5 532.1 64.9 532.5 65.8 533 69.8 533.4 67 533.9 66.9 534.3 66.8 534.8 67 535.2 67 535.7 71 536.1 66.6 536.6 66.3 537 68.7 537.5 65.3 537.9 67.4 538.4 68.5" fill="none" stroke="#FFFF00" stroke-width="2.6" stroke-linejoin="round"/>
<path d="M313.2 90.2 313.6 94.9 314.1 97.1 314.5 98.1 315 100.8 315.4 100.1 315.9 99.4 316.3 103.1 316.8 105.6 317.2 107 317.7 107 318.1 106.2 318.6 114.4 319 112.5 319.5 114.7 319.9 114.4 320.4 115.5 320.8 119.1 321.3 120.8 321.7 119 322.2 120.7 322.6 121.5 323.1 121.9 323.5 123.3 324 125.5 324.4 123.9 324.9 131.2 325.3 126.5 325.8 129.3 326.2 133.9 326.7 131.4 327.1 133.2 327.6 135.3 328 138.1 328.5 135 328.9 139.9 329.4 136.8 329.8 142.7 330.3 142.5 330.7 142.6 331.2 142.3 331.6 146.3 332.1 146.3 332.5 147.9 333 144.8 333.4 148 333.9 149.6 334.3 151.1 334.8 148.6 335.2 149.7 335.7 154.2 336.1 153.9 336.6 156.1 337 155.1 337.5 158.5 337.9 158.4 338.4 159.9 338.8 162.6 339.3 167.7 339.7 166.6 340.2 167.5 340.6 169.8 341.1 172.3 341.5 173 342 172.5 342.4 171.6 342.9 167.5 343.3 165.8 343.8 167.2 344.2 162.1 344.7 160.2 345.1 155.4 345.6 155 346 149.7 346.5 148.6 346.9 146.7 347.4 144.6 347.8 143.6 348.3 141.6 348.7 139.5 349.2 135.7 349.6 132.3 350.1 130.8 350.5 128.1 351 125.5 351.4 127.7 351.9 121.2 352.3 122.6 352.8 119.5 353.2 116.6 353.7 122.2 354.1 117.8 354.6 116.2 355 121.6 355.5 117.4 355.9 118.3 356.4 121.1 356.8 117.5 357.3 118.2 357.7 121.6 358.2 121.9 358.6 120.8 359.1 120.9 359.5 122.5 360 127.1 360.4 130 360.9 131.5 361.3 132 361.8 134 362.2 131.9 362.7 137.7 363.1 139.1 363.6 144.4 364 143.8 364.5 146.4 364.9 148.4 365.4 150.8 365.8 152.8 366.3 157.1 366.7 157.6 367.2 157.5 367.6 157.2 368.1 162.5 368.5 161.5 369 159.8 369.4 158 369.9 156.1 370.3 158.2 370.8 156.8 371.2 153.2 371.7 150.7 372.1 151.1 372.6 146.3 373 142.1 373.5 137.9 373.9 137 374.4 133.1 374.8 126.1 375.3 119.7 375.7 121.3 376.2 117.3 376.6 114.6 377.1 109.9 377.5 97.4 378 104.6 378.4 94.2 378.9 98.5 379.3 88.7 379.8 81.6 380.2 74.5 380.7 75.5 381.1 78.4 381.6 73.9 382 81.1 382.5 73.7 382.9 75.6 383.4 69.6 383.8 69.5 384.3 69.9 384.7 67.6 385.2 78.8 385.6 81.3 386.1 69.4 386.5 70.6 387 79.7 387.4 75.9 387.9 76.9 388.3 66.5 388.8 83.2 389.2 74.6 389.7 74.3 390.1 70.7 390.6 71.5 391 71.6 391.5 70.5 391.9 73.5 392.4 76.5 392.8 68.5 393.3 70.7 393.7 75.9 394.2 74.3 394.6 89.1 395.1 66.1 395.5 75.1 396 69.5 396.4 70.3 396.9 70.4 397.3 70.2 397.8 75 398.2 72.4 398.7 76.1 399.1 86.6 399.6 75.9 400 69.9 400.5 77.6 400.9 54.4 401.4 77.8 401.8 80.4 402.3 70.4 402.7 72.1 403.2 68.9 403.6 64.2 404.1 73.4 404.5 72.2 405 67.1 405.4 76.5 405.9 63.8 406.3 74.9 406.8 73.5 407.2 72.2 407.7 71.7 408.1 71 408.6 61.7 409 56.4 409.5 68.6 409.9 77 410.4 69.5 410.8 70.7 411.3 70.4 411.7 70.2 412.2 69.8 412.6 71.2 413.1 56.4 413.5 67.9 414 58.9 414.4 72.7 414.9 58 415.3 62.2 415.8 69.8 416.2 64.1 416.7 68.4 417.1 59.7 417.6 79.5 418 64.5 418.5 58.1 418.9 69.9 419.4 61 419.8 64.8 420.3 63.6 420.7 65.6 421.2 63.7 421.6 72.6 422.1 69.2 422.5 58.6 423 67.2 423.4 61.3 423.9 61.5 424.3 59.7 424.8 55.1 425.2 65.1 425.7 57.4 426.1 62.3 426.6 67.9 427 54.7 427.5 59.3 427.9 60.7 428.4 57.6 428.8 57.7 429.3 54.6 429.7 48.1 430.2 58.6 430.6 69.5 431.1 52.7 431.5 59.5 432 57.8 432.4 53 432.9 54.7 433.3 61 433.8 56 434.2 55.6 434.7 60.7 435.1 54.4 435.6 50.9 436 55.8 436.5 54.9 436.9 57.8 M441.5 90.5 441.8 80.7 440.2 83.8 442.7 85.9 442.9 91.9 443.2 96.1 443.7 97.9 443.3 98.4 444.4 93.6 445.3 97.5 446.2 101.2 446.7 99.8 446.7 96.2 446.6 112.4 447.9 101.7 446.9 98.2 449.2 101.8 450.4 101.7 449.6 97.3 450.7 110.3 451.1 114.4 450.2 104.1 449.3 111.1 453.3 114.1 452.2 119.8 452 113.3 451.8 124 453.4 114.3 452.4 113.1 457 114.2 456.2 120.9 454.5 118.8 456.1 120.5 457.3 114.2 456.8 115.5 457.6 113.5 456.9 115.2 457.4 113.2 458.1 111.3 461.2 102.7 461 102.7 458.6 109.8 460 106.3 460.5 114.5 461.1 105.5 462.2 98.2 460.1 98.2 462.5 97.4 461.9 108.2 461.9 95.7 464.5 83.5 464 95.2 463.9 90.2 466.2 90.4 467.2 85.1 466.5 76.2 466.4 97.2 467.6 87.4 467 82.1 468.2 82.6 468.1 77.3 469.4 83.1 469.5 77.3 469.5 82.4 469.5 72 470.1 83.2 471.2 88.6 471.3 67.7 471.8 69.4 472.2 78.1 472.7 68.7 473.1 59 473.6 63.1 474 70 474.5 75.9 474.9 67 475.4 64 475.8 65 476.3 65.5 476.7 61 477.2 65.3 477.6 60.2 478.1 58.4 478.5 53.4 479 62.8 479.4 51.9 479.9 58.6 480.3 57.7 480.8 51.5 481.2 57.3 481.7 60.6 482.1 58.1 482.6 60.3 483 57.3 483.5 66.6 483.9 61.8 484.4 57.8 484.8 60 485.3 54.1 485.7 52.7 486.2 56.1 486.6 55.9 487.1 55.9 487.5 57.1 488 56.1 488.4 56.1 488.9 57.3 489.3 56.9 489.8 56.5 490.2 58.5 490.7 61.8 491.1 61.3 491.6 55.6 492 57.3 492.5 57.3 492.9 57.1 493.4 55.8 493.8 57.6 494.3 60.1 494.7 57.8 495.2 58.9 495.6 56.9 496.1 61.5 496.5 62 497 55 497.4 55.7 497.9 54.9 498.3 62.5 498.8 59.1 499.2 58.7 499.7 60 500.1 57.3 500.6 59.3 501 58.1 501.5 59.9 501.9 60.8 502.4 61.9 502.8 60.3 503.3 58.1 503.7 54.7 504.2 64.6 504.6 59.6 505.1 62.3 505.5 63.9 506 62.4 506.4 60.7 506.9 61.6 507.3 65.1 507.8 63.4 508.2 61.6 508.7 63 509.1 61.1 509.6 63.3 510 65.7 510.5 59.7 510.9 60.1 511.4 66.1 511.8 62.1 512.3 60.1 512.7 65.6 513.2 65.9 513.6 66.6 514.1 62.9 514.5 64.5 515 60 515.4 59.4 515.9 64.3 516.3 62.4 516.8 59.5 517.2 60.6 517.7 65.8 518.1 63.9 518.6 64.8 519 64.5 519.5 64 519.9 66.7 520.4 60.5 520.8 58.2 521.3 56.7 521.7 62.9 522.2 66.5 522.6 65.9 523.1 65.9 523.5 67.4 524 67.9 524.4 63.6 524.9 64 525.3 63.3 525.8 69.4 526.2 64.2 526.7 68.5 527.1 68.5 527.6 67.3 528 67.4 528.5 66.4 528.9 67.6 529.4 66.4 529.8 65.7 530.3 70 530.7 67.8 531.2 67.8 531.6 64.6 532.1 72.6 532.5 64.4 533 68.1 533.4 66.1 533.9 67.9 534.3 66.5 534.8 66.1 535.2 69.1 535.7 65.4 536.1 71.2 536.6 65.4 537 72.7 537.5 68.6 537.9 67 538.4 68.8" fill="none" stroke="#FF8000" stroke-width="2.7" stroke-linejoin="round"/>
<path d="M313.2 87.2 313.6 89.8 314.1 91.2 314.5 92.5 315 96 315.4 95.7 315.9 97.3 316.3 98 316.8 97.8 317.2 100.7 317.7 102.9 318.1 103.2 318.6 103.4 319 103.7 319.5 109.7 319.9 107.2 320.4 108.7 320.8 109.2 321.3 113.2 321.7 114.3 322.2 114.4 322.6 116.8 323.1 118.8 323.5 119.3 324 119.7 324.4 122.2 324.9 124.2 325.3 123.5 325.8 125.2 326.2 128.1 326.7 129.9 327.1 130.3 327.6 130.4 328 132.7 328.5 131 328.9 132.4 329.4 133.1 329.8 135.6 330.3 133.9 330.7 135.3 331.2 139.4 331.6 137.1 332.1 135.9 332.5 141 333 142.5 333.4 140.6 333.9 141.7 334.3 143.3 334.8 145.5 335.2 148.4 335.7 149.2 336.1 146.6 336.6 152 337 149.5 337.5 152 337.9 152.4 338.4 152.8 338.8 152.4 339.3 158.5 339.7 156 340.2 159.1 340.6 156.8 341.1 159.9 341.5 159.6 342 162.4 342.4 163.6 342.9 160.2 343.3 160.4 343.8 160.2 344.2 160.1 344.7 158.6 345.1 154.6 345.6 152.3 346 152 346.5 152.1 346.9 150.7 347.4 145.3 347.8 142.6 348.3 142.9 348.7 142.3 349.2 141.7 349.6 136.6 350.1 135.6 350.5 135.6 351 131 351.4 131.7 351.9 131 352.3 128.4 352.8 127.6 353.2 122.4 353.7 118.7 354.1 121.6 354.6 118.5 355 117.2 355.5 113.4 355.9 110.4 356.4 111.6 356.8 112.4 357.3 112.6 357.7 114.9 358.2 116.2 358.6 116.3 359.1 116.3 359.5 117.4 360 123 360.4 125 360.9 126 361.3 131.9 361.8 130.6 362.2 134.9 362.7 137 363.1 137.3 363.6 142.6 364 143.5 364.5 145.6 364.9 145.3 365.4 148.4 365.8 149.8 366.3 153.1 366.7 155.4 367.2 158 367.6 154.6 368.1 157.2 368.5 156.7 369 157.1 369.4 151.3 369.9 155 370.3 150.4 370.8 150.2 371.2 147.3 371.7 144.8 372.1 145.8 372.6 143.3 373 141.5 373.5 137.1 373.9 130.7 374.4 129.6 374.8 124.3 375.3 121.8 375.7 114.7 376.2 107.6 376.6 105.5 377.1 96.5 377.5 93.9 378 89.8 378.4 87.4 378.9 81.1 379.3 74.7 379.8 76.6 380.2 76 380.7 72.3 381.1 70.9 381.6 66 382 70.1 382.5 61.6 382.9 54.6 383.4 61.3 383.8 69.1 384.3 53.5 384.7 49.2 385.2 70 385.6 54 386.1 64.6 386.5 57.1 387 65.9 387.4 54.5 387.9 55.5 388.3 62 388.8 59.5 389.2 64 389.7 69.2 390.1 58 390.6 59.7 391 58.9 391.5 57.1 391.9 64 392.4 57.7 392.8 61.9 393.3 67.4 393.7 52.8 394.2 57.8 394.6 58.8 395.1 57.8 395.5 65.6 396 62.6 396.4 60.8 396.9 56.8 397.3 70.1 397.8 44.3 398.2 49.1 398.7 57.5 399.1 65.2 399.6 55.7 400 59.7 400.5 51.1 400.9 58 401.4 55.1 401.8 59.7 402.3 54.7 402.7 52.9 403.2 54.6 403.6 46.4 404.1 56.2 404.5 59.9 405 52.5 405.4 62.4 405.9 58.5 406.3 50.2 406.8 60 407.2 51.7 407.7 61.3 408.1 47.9 408.6 51.7 409 42.4 409.5 51.9 409.9 48.6 410.4 48.6 410.8 59.1 411.3 58.7 411.7 60.2 412.2 51.9 412.6 57.3 413.1 42.4 413.5 45.7 414 51.9 414.4 50.6 414.9 49.1 415.3 58.8 415.8 62 416.2 51 416.7 59.3 417.1 50.7 417.6 48.7 418 56.7 418.5 52.8 418.9 42.9 419.4 51.3 419.8 55.6 420.3 41.4 420.7 45.8 421.2 50.6 421.6 42.9 422.1 43.9 422.5 54.6 423 57.3 423.4 46 423.9 44.5 424.3 45.1 424.8 37.1 425.2 46.9 425.7 48.9 426.1 50.6 426.6 57 427 40.8 427.5 51.5 427.9 46 428.4 42.5 428.8 48.6 429.3 42.7 429.7 38.9 430.2 46.3 430.6 38.4 431.1 42.6 431.5 44.5 432 41.6 432.4 33.6 432.9 43.2 433.3 44.7 433.8 34.1 434.2 34.7 434.7 28.8 435.1 41.7 435.6 37.9 436 48.7 436.5 53.7 436.9 63.6 437.4 61.4 M441.4 68.1 441.2 79.4 441.3 87.7 443.7 90.4 444.1 83.1 445.3 92.7 443.5 93.6 445.7 93.2 447.3 94.9 444.5 86.4 445.1 94.3 445.9 94.4 447.9 105.9 448.4 97.3 448.7 82.6 448 105.1 448.1 108.7 448.3 99.1 449.8 110.5 449.3 106.3 449.7 102.3 451.5 92.7 451.3 96.9 451.1 104.2 450.9 106.4 453.3 106.5 452.5 101.8 452 102.1 455.6 112.2 456.6 119.1 453.6 114.6 456 107.5 456.3 114.9 455 112.2 457 107.8 455.3 113.3 458.7 101.8 456.4 104.2 458.6 108.3 459.8 102.4 457.8 118.8 457.2 108.3 462.1 107 459 101.6 459.2 95.5 461.1 88.4 461.6 90.9 460 89.3 462.3 80.4 461.7 98.2 464.1 92.2 465.6 78.1 465.4 87.2 463.9 88.7 464.4 85.7 465.7 80.8 465.5 82.6 468.2 82.2 466.2 76.8 467.5 77.8 469.3 74.7 468.4 68.1 468.4 85 469.8 74.2 469.8 70.6 470.3 66.4 471 63.9 471.2 73.8 471.8 73.3 472.2 68.2 472.7 73.3 473.1 73.5 473.6 63.2 474 69.8 474.5 73.6 474.9 65 475.4 71.5 475.8 57.9 476.3 70.4 476.7 62.2 477.2 69.6 477.6 59.6 478.1 58.5 478.5 56.7 479 59.4 479.4 56.7 479.9 65.9 480.3 56.8 480.8 57.3 481.2 56.1 481.7 56.7 482.1 51.6 482.6 64.6 483 50.8 483.5 56.7 483.9 55.7 484.4 53.6 484.8 64.3 485.3 53.7 485.7 55.2 486.2 47.7 486.6 55.3 487.1 55.4 487.5 51.4 488 52.9 488.4 55.6 488.9 57.2 489.3 54.8 489.8 57.1 490.2 57 490.7 52.4 491.1 53.1 491.6 62.5 492 55.7 492.5 62.4 492.9 57.7 493.4 62.2 493.8 55.7 494.3 53.3 494.7 57.7 495.2 52.2 495.6 58.2 496.1 58.1 496.5 60.2 497 53.7 497.4 57.7 497.9 63.5 498.3 55.3 498.8 56.1 499.2 55.5 499.7 58.6 500.1 60.9 500.6 56.7 501 58.6 501.5 61.2 501.9 61 502.4 56.9 502.8 54.9 503.3 54.9 503.7 61.5 504.2 58.9 504.6 58.4 505.1 55.9 505.5 63.8 506 58.5 506.4 56.4 506.9 60.5 507.3 60.6 507.8 58.5 508.2 62.1 508.7 58.3 509.1 60.6 509.6 69.3 510 65.8 510.5 57.5 510.9 59.4 511.4 59.5 511.8 59.5 512.3 63.3 512.7 60.9 513.2 65.6 513.6 60.1 514.1 58.9 514.5 64.8 515 58.7 515.4 61.4 515.9 61.9 516.3 65.8 516.8 62.8 517.2 59.5 517.7 63.2 518.1 68.7 518.6 64.6 519 64 519.5 66.1 519.9 64.3 520.4 72.1 520.8 65.6 521.3 67.4 521.7 69.1 522.2 65.1 522.6 64.6 523.1 64.2 523.5 67 524 66 524.4 70.3 524.9 66.9 525.3 65.1 525.8 69.3 526.2 64.7 526.7 66.9 527.1 69.8 527.6 60.2 528 64 528.5 72.2 528.9 68.3 529.4 66.5 529.8 69.7 530.3 69.3 530.7 65.4 531.2 64.9 531.6 66.5 532.1 63.1 532.5 67 533 68 533.4 70 533.9 71.1 534.3 69.9 534.8 66.2 535.2 67.2 535.7 68.9 536.1 72 536.6 71.6 537 68.8 537.5 73.7 537.9 70.5 538.4 70.3" fill="none" stroke="#FF0000" stroke-width="2.7" stroke-linejoin="round"/>
</g>
<line x1="313.5" y1="83.0" x2="538.5" y2="83.0" stroke="#111" stroke-width="1"/>
<path d="M313.5 15.5H437.59999999999997M441.0 15.5H538.5V178.5H441.0M437.59999999999997 178.5H313.5Z" fill="none" stroke="#222" stroke-width="1"/>
<line x1="313.5" y1="15.5" x2="313.5" y2="178.5" stroke="#222" stroke-width="1"/>
<line x1="435.6" y1="18.5" x2="439.2" y2="12.5" stroke="#222" stroke-width="1.1"/>
<line x1="439.6" y1="18.5" x2="443.2" y2="12.5" stroke="#222" stroke-width="1.1"/>
<line x1="435.6" y1="181.5" x2="439.2" y2="175.5" stroke="#222" stroke-width="1.1"/>
<line x1="439.6" y1="181.5" x2="443.2" y2="175.5" stroke="#222" stroke-width="1.1"/>
<line x1="313.2" y1="178.5" x2="313.2" y2="175.5" stroke="#222" stroke-width="1"/>
<line x1="357.2" y1="178.5" x2="357.2" y2="175.5" stroke="#222" stroke-width="1"/>
<line x1="401.3" y1="178.5" x2="401.3" y2="175.5" stroke="#222" stroke-width="1"/>
<line x1="335.2" y1="178.5" x2="335.2" y2="176.5" stroke="#222" stroke-width="1"/>
<line x1="379.3" y1="178.5" x2="379.3" y2="176.5" stroke="#222" stroke-width="1"/>
<line x1="423.3" y1="178.5" x2="423.3" y2="176.5" stroke="#222" stroke-width="1"/>
<line x1="472.2" y1="178.5" x2="472.2" y2="175.5" stroke="#222" stroke-width="1"/>
<line x1="516.3" y1="178.5" x2="516.3" y2="175.5" stroke="#222" stroke-width="1"/>
<line x1="450.2" y1="178.5" x2="450.2" y2="176.5" stroke="#222" stroke-width="1"/>
<line x1="494.3" y1="178.5" x2="494.3" y2="176.5" stroke="#222" stroke-width="1"/>
<line x1="313.5" y1="44.4" x2="316.5" y2="44.4" stroke="#222" stroke-width="1"/>
<line x1="313.5" y1="82.8" x2="316.5" y2="82.8" stroke="#222" stroke-width="1"/>
<line x1="313.5" y1="121.2" x2="316.5" y2="121.2" stroke="#222" stroke-width="1"/>
<line x1="313.5" y1="159.7" x2="316.5" y2="159.7" stroke="#222" stroke-width="1"/>
<line x1="313.5" y1="25.1" x2="315.5" y2="25.1" stroke="#222" stroke-width="1"/>
<line x1="313.5" y1="63.6" x2="315.5" y2="63.6" stroke="#222" stroke-width="1"/>
<line x1="313.5" y1="102" x2="315.5" y2="102" stroke="#222" stroke-width="1"/>
<line x1="313.5" y1="140.5" x2="315.5" y2="140.5" stroke="#222" stroke-width="1"/>
<text x="44.7" y="189.3" font-size="9" text-anchor="middle" >500</text>
<text x="88.8" y="189.3" font-size="9" text-anchor="middle" >600</text>
<text x="132.8" y="189.3" font-size="9" text-anchor="middle" >700</text>
<text x="203.4" y="189.3" font-size="9" text-anchor="middle" >900</text>
<text x="247.4" y="189.3" font-size="9" text-anchor="middle" >1000</text>
<text x="41" y="32.6" font-size="9" text-anchor="end" >0.6</text>
<text x="41" y="77.2" font-size="9" text-anchor="end" >0.0</text>
<text x="41" y="121.8" font-size="9" text-anchor="end" >−0.6</text>
<text x="41" y="166.5" font-size="9" text-anchor="end" >−1.2</text>
<text x="313.2" y="190.3" font-size="9" text-anchor="middle" >500</text>
<text x="357.2" y="190.3" font-size="9" text-anchor="middle" >600</text>
<text x="401.3" y="190.3" font-size="9" text-anchor="middle" >700</text>
<text x="472.2" y="190.3" font-size="9" text-anchor="middle" >900</text>
<text x="516.3" y="190.3" font-size="9" text-anchor="middle" >1000</text>
<text x="309.8" y="47.6" font-size="9" text-anchor="end" >0.4</text>
<text x="309.8" y="86" font-size="9" text-anchor="end" >0.0</text>
<text x="309.8" y="124.4" font-size="9" text-anchor="end" >−0.4</text>
<text x="309.8" y="162.9" font-size="9" text-anchor="end" >−0.8</text>
<text x="156.6" y="202.5" font-size="12.2" text-anchor="middle" >Wavelength (nm)</text>
<text x="425.7" y="203.2" font-size="12.2" text-anchor="middle" >Wavelength (nm)</text>
<text transform="translate(17.7 96.2) rotate(-90)" font-size="12.3" text-anchor="middle">mΔOD</text>
<text transform="translate(287.9 97.5) rotate(-90)" font-size="12.3" text-anchor="middle">mΔOD</text>
<text x="55" y="30.5" font-size="12.5" text-anchor="start" >PTQ10:Y6</text>
<text x="327" y="30.7" font-size="12.6" text-anchor="start" >PTQ10:Y6 (DIO)</text>
<text x="6.5" y="21.8" font-size="14.5" text-anchor="start" >(a)</text>
<text x="280.8" y="20.8" font-size="14.5" text-anchor="start" >(b)</text>
<text x="6.5" y="211.5" font-size="14.5" text-anchor="start" >(c)</text>
<text x="282.2" y="216.3" font-size="14.5" text-anchor="start" >(d)</text>
<line x1="209.5" y1="100.1" x2="229.9" y2="100.1" stroke="#4B0C8F" stroke-width="2.1"/>
<text x="230.6" y="103.1" font-size="8.3" text-anchor="start" >0.2 ps</text>
<line x1="209.5" y1="110.5" x2="229.9" y2="110.5" stroke="#0A0A8A" stroke-width="2.1"/>
<text x="230.6" y="113.5" font-size="8.3" text-anchor="start" >1 ps</text>
<line x1="209.5" y1="120.9" x2="229.9" y2="120.9" stroke="#0000FF" stroke-width="2.1"/>
<text x="230.6" y="123.9" font-size="8.3" text-anchor="start" >5 ps</text>
<line x1="209.5" y1="131.3" x2="229.9" y2="131.3" stroke="#0CB80C" stroke-width="2.1"/>
<text x="230.6" y="134.3" font-size="8.3" text-anchor="start" >10 ps</text>
<line x1="209.5" y1="141.7" x2="229.9" y2="141.7" stroke="#FFFF00" stroke-width="2.1"/>
<text x="230.6" y="144.7" font-size="8.3" text-anchor="start" >100 ps</text>
<line x1="209.5" y1="152.1" x2="229.9" y2="152.1" stroke="#FF8000" stroke-width="2.1"/>
<text x="230.6" y="155.1" font-size="8.3" text-anchor="start" >1000 ps</text>
<line x1="209.5" y1="162.5" x2="229.9" y2="162.5" stroke="#FF0000" stroke-width="2.1"/>
<text x="230.6" y="165.5" font-size="8.3" text-anchor="start" >1800 ps</text>
<line x1="484.4" y1="99.4" x2="504.2" y2="99.4" stroke="#4B0C8F" stroke-width="2.1"/>
<text x="505.4" y="102.4" font-size="8.3" text-anchor="start" >0.2 ps</text>
<line x1="484.4" y1="109.8" x2="504.2" y2="109.8" stroke="#0A0A8A" stroke-width="2.1"/>
<text x="505.4" y="112.8" font-size="8.3" text-anchor="start" >1 ps</text>
<line x1="484.4" y1="120.2" x2="504.2" y2="120.2" stroke="#0000FF" stroke-width="2.1"/>
<text x="505.4" y="123.2" font-size="8.3" text-anchor="start" >5 ps</text>
<line x1="484.4" y1="130.7" x2="504.2" y2="130.7" stroke="#0CB80C" stroke-width="2.1"/>
<text x="505.4" y="133.7" font-size="8.3" text-anchor="start" >10 ps</text>
<line x1="484.4" y1="141.1" x2="504.2" y2="141.1" stroke="#FFFF00" stroke-width="2.1"/>
<text x="505.4" y="144.1" font-size="8.3" text-anchor="start" >100 ps</text>
<line x1="484.4" y1="151.5" x2="504.2" y2="151.5" stroke="#FF8000" stroke-width="2.1"/>
<text x="505.4" y="154.5" font-size="8.3" text-anchor="start" >1000 ps</text>
<line x1="484.4" y1="161.9" x2="504.2" y2="161.9" stroke="#FF0000" stroke-width="2.1"/>
<text x="505.4" y="164.9" font-size="8.3" text-anchor="start" >1800 ps</text>
<line x1="46.5" y1="371.9" x2="267.5" y2="371.9" stroke="#444" stroke-width="1.5"/>
<g clip-path="url(#cc)">
<g fill="#fff" stroke="#FF0000" stroke-width="1.7"><circle cx="45.8" cy="374.7" r="2.4"/><circle cx="46.2" cy="374" r="2.4"/><circle cx="46.6" cy="375.3" r="2.4"/><circle cx="47" cy="376.7" r="2.4"/><circle cx="47.4" cy="375.7" r="2.4"/><circle cx="47.8" cy="377" r="2.4"/><circle cx="48.2" cy="374.5" r="2.4"/><circle cx="48.6" cy="371.6" r="2.4"/><circle cx="49" cy="375.8" r="2.4"/><circle cx="49.4" cy="376.1" r="2.4"/><circle cx="49.8" cy="373.6" r="2.4"/><circle cx="50.2" cy="373.9" r="2.4"/><circle cx="50.6" cy="374.4" r="2.4"/><circle cx="52.7" cy="371.6" r="2.4"/><circle cx="53" cy="367" r="2.4"/><circle cx="53.2" cy="362.3" r="2.4"/><circle cx="52.6" cy="357.7" r="2.4"/><circle cx="52.9" cy="353.1" r="2.4"/><circle cx="52.4" cy="348.5" r="2.4"/><circle cx="52.6" cy="343.8" r="2.4"/><circle cx="52.4" cy="339.2" r="2.4"/><circle cx="52.9" cy="334.6" r="2.4"/><circle cx="52.6" cy="329.9" r="2.4"/><circle cx="53.1" cy="325.3" r="2.4"/><circle cx="53" cy="320.7" r="2.4"/><circle cx="52.9" cy="316.1" r="2.4"/><circle cx="52.2" cy="311.4" r="2.4"/><circle cx="52.8" cy="306.8" r="2.4"/><circle cx="53" cy="302.2" r="2.4"/><circle cx="53" cy="297.5" r="2.4"/><circle cx="52.5" cy="292.9" r="2.4"/><circle cx="52.9" cy="288.3" r="2.4"/><circle cx="52.7" cy="283.6" r="2.4"/><circle cx="52.8" cy="279" r="2.4"/><circle cx="53.8" cy="257.4" r="2.4"/><circle cx="54.5" cy="256.6" r="2.4"/><circle cx="55.2" cy="250.8" r="2.4"/><circle cx="55.8" cy="245.1" r="2.4"/><circle cx="56.5" cy="245.5" r="2.4"/><circle cx="57.2" cy="241.6" r="2.4"/><circle cx="57.9" cy="238.6" r="2.4"/><circle cx="58.5" cy="236.6" r="2.4"/><circle cx="59.2" cy="237.6" r="2.4"/><circle cx="59.9" cy="232.8" r="2.4"/><circle cx="60.6" cy="228.3" r="2.4"/><circle cx="61.2" cy="233.6" r="2.4"/><circle cx="61.9" cy="226.8" r="2.4"/><circle cx="62.6" cy="227.4" r="2.4"/><circle cx="63.3" cy="228.2" r="2.4"/><circle cx="63.9" cy="221.2" r="2.4"/><circle cx="64.6" cy="223.3" r="2.4"/><circle cx="65.3" cy="227.2" r="2.4"/><circle cx="65.9" cy="223.6" r="2.4"/><circle cx="66.6" cy="221.9" r="2.4"/><circle cx="67.3" cy="223.2" r="2.4"/><circle cx="68" cy="220.8" r="2.4"/><circle cx="79" cy="212.4" r="2.4"/><circle cx="83.1" cy="215.6" r="2.4"/><circle cx="87.7" cy="217.3" r="2.4"/><circle cx="92.9" cy="211.9" r="2.4"/><circle cx="97" cy="214" r="2.4"/><circle cx="98.6" cy="217.3" r="2.4"/><circle cx="95.4" cy="221.4" r="2.4"/><circle cx="85.5" cy="225.5" r="2.4"/><circle cx="64.2" cy="211.2" r="2.4"/><circle cx="79.3" cy="212.5" r="2.4"/><circle cx="78" cy="217.2" r="2.4"/><circle cx="70" cy="213" r="2.4"/><circle cx="74" cy="211" r="2.4"/><circle cx="105.2" cy="215.1" r="2.4"/><circle cx="111.7" cy="226.6" r="2.4"/><circle cx="118.6" cy="217.3" r="2.4"/><circle cx="125.3" cy="227.9" r="2.4"/><circle cx="131.9" cy="223.8" r="2.4"/><circle cx="138.7" cy="226.6" r="2.4"/><circle cx="145.3" cy="219.4" r="2.4"/><circle cx="152.2" cy="236.4" r="2.4"/><circle cx="158.7" cy="220.7" r="2.4"/><circle cx="165.3" cy="222.9" r="2.4"/><circle cx="171.8" cy="231.6" r="2.4"/><circle cx="178.8" cy="231.2" r="2.4"/><circle cx="185.6" cy="220.7" r="2.4"/><circle cx="192.5" cy="223.5" r="2.4"/><circle cx="199.1" cy="227.9" r="2.4"/><circle cx="206.1" cy="215.5" r="2.4"/><circle cx="212.6" cy="229" r="2.4"/><circle cx="219.4" cy="229.4" r="2.4"/><circle cx="225.9" cy="232.9" r="2.4"/><circle cx="232.5" cy="232.9" r="2.4"/><circle cx="239.5" cy="228.6" r="2.4"/><circle cx="246.4" cy="229" r="2.4"/><circle cx="253" cy="234" r="2.4"/><circle cx="259.8" cy="235.1" r="2.4"/><circle cx="265.6" cy="226.8" r="2.4"/></g>
<path d="M51.4 371.6 51.4 365.7 51.5 360.2 51.5 355 51.5 350.1 51.6 345.5 51.6 341.1 51.6 337 51.7 333.1 51.7 329.4 51.7 325.9 51.8 322.7 51.8 319.6 51.8 316.6 51.9 313.9 51.9 311.3 51.9 308.8 52 306.5 52 304.2 52 302.1 52.1 300.2 52.1 298.3 52.1 296.5 52.2 294.8 52.2 293.2 52.2 291.7 52.3 290.2 52.3 288.8 52.3 287.5 52.4 286.3 52.4 285.1 52.4 284 52.5 282.9 52.5 281.9 52.5 280.9 52.6 279.9 52.6 279 52.6 278.2 52.7 277.4 52.7 276.6 52.7 275.8 52.8 275.1 52.8 274.4 52.8 273.7 52.9 273.1 52.9 272.5 52.9 271.9 53 271.3 53 270.8 53.1 270.2 53.1 269.7 53.1 269.2 53.2 268.8 53.2 268.3 53.2 267.8 53.3 267.4 53.3 267 53.3 266.6 53.4 266.2 53.4 265.8 53.4 265.4 53.5 265 53.5 264.7 53.5 264.3 53.6 264 53.6 263.6 53.6 263.3 53.7 263 53.7 262.7 53.7 262.4 53.8 262.1 53.8 261.8 53.8 261.5 53.9 261.2 53.9 260.9 53.9 260.6 54 260.4 54 260.1 54 259.8 54.1 259.6 54.1 259.3 54.1 259.1 54.2 258.8 54.2 258.6 54.2 258.3 54.3 258.1 54.3 257.9 54.3 257.6 54.4 257.4 54.4 257.2 54.4 256.9 54.5 256.7 54.5 256.5 54.5 256.3 54.6 256.1 54.6 255.9 54.6 255.6 54.7 255.4 54.7 255.2 54.7 255 54.8 254.8 54.8 254.6 54.8 254.4 54.9 254.2 54.9 254 54.9 253.8 55 253.6 55 253.4 55 253.3 55.1 253.1 55.1 252.9 55.1 252.7 55.2 252.5 55.2 252.3 55.2 252.1 55.3 252 55.3 251.8 55.3 251.6 55.4 251.4 55.4 251.2 55.4 251.1 55.6 250.4 55.7 249.7 55.8 249 56 248.4 56.1 247.8 56.2 247.2 56.4 246.6 56.5 246 56.7 245.4 56.8 244.9 56.9 244.3 57.1 243.8 57.2 243.3 57.3 242.8 57.5 242.3 57.6 241.8 57.7 241.3 57.9 240.9 58 240.4 58.1 240 58.3 239.5 58.4 239.1 58.5 238.7 58.7 238.3 58.8 237.9 58.9 237.5 59.1 237.1 59.2 236.8 59.3 236.4 59.5 236.1 59.6 235.7 59.8 235.4 59.9 235.1 60 234.7 60.2 234.4 60.3 234.1 60.4 233.8 60.6 233.5 60.7 233.2 60.8 232.9 61 232.7 61.1 232.4 61.2 232.1 61.4 231.9 61.5 231.6 61.6 231.4 61.8 231.2 61.9 230.9 62 230.7 62.2 230.5 62.3 230.3 62.4 230 62.6 229.8 62.7 229.6 62.8 229.4 63 229.2 63.1 229.1 63.3 228.9 63.4 228.7 63.5 228.5 63.7 228.3 63.8 228.2 63.9 228 64.1 227.8 64.2 227.7 64.3 227.5 64.5 227.4 64.6 227.2 64.7 227.1 64.9 227 65 226.8 65.1 226.7 65.3 226.5 65.4 226.4 65.5 226.3 65.7 226.2 65.8 226.1 65.9 225.9 66.1 225.8 66.2 225.7 66.4 225.6 66.5 225.5 66.6 225.4 66.8 225.3 66.9 225.2 67 225.1 67.2 225 67.3 224.9 67.4 224.8 67.6 224.7 67.7 224.7 67.8 224.6 68 224.5 68.1 224.4 68.2 224.3 68.4 224.3 68.5 224.2 68.6 224.1 68.8 224.1 68.9 224 69 223.9 69.2 223.9 69.3 223.8 69.4 223.7 69.6 223.7 69.7 223.6 69.9 223.6 70 223.5 70.1 223.4 70.3 223.4 70.4 223.3 70.5 223.3 70.7 223.2 70.8 223.2 70.9 223.2 71.1 223.1 71.2 223.1 71.3 223 71.5 223 71.6 222.9 71.7 222.9 71.9 222.9 72 222.8 72.1 222.8 72.3 222.7 72.4 222.7 72.5 222.7 72.7 222.6 72.8 222.6 73 222.6 73.1 222.6 73.2 222.5 73.4 222.5 73.5 222.5 73.6 222.4 73.8 222.4 73.9 222.4 74 222.4 74.2 222.3 74.3 222.3 74.4 222.3 74.6 222.3 74.7 222.3 74.8 222.2 75 222.2 75.1 222.2 75.2 222.2 75.4 222.2 75.5 222.1 75.6 222.1 75.8 222.1 75.9 222.1 76.1 222.1 76.2 222.1 76.3 222 76.5 222 76.6 222 76.7 222 76.9 222 77 222 77.1 222 77.3 222 77.4 221.9 77.5 221.9 77.7 221.9 77.8 221.9 77.9 221.9 78.1 221.9 78.2 221.9 78.3 221.9 81 221.8 83.7 221.8 86.4 221.8 89.1 221.9 91.8 222 94.5 222.1 97.2 222.3 99.9 222.4 102.6 222.6 105.3 222.7 108 222.9 110.7 223 113.4 223.2 116.1 223.3 118.8 223.5 121.4 223.6 124.1 223.8 126.8 223.9 129.5 224.1 132.2 224.2 134.9 224.4 137.6 224.5 140.3 224.7 143 224.8 145.7 225 148.4 225.2 151.1 225.3 153.8 225.5 156.5 225.6 159.2 225.8 161.9 225.9 164.5 226.1 167.2 226.2 169.9 226.4 172.6 226.5 175.3 226.7 178 226.8 180.7 227 183.4 227.1 186.1 227.3 188.8 227.4 191.5 227.5 194.2 227.7 196.9 227.8 199.6 228 202.3 228.1 205 228.3 207.7 228.4 210.3 228.6 213 228.7 215.7 228.9 218.4 229 221.1 229.2 223.8 229.3 226.5 229.5 229.2 229.6 231.9 229.8 234.6 229.9 237.3 230.1 240 230.2 242.7 230.3 245.4 230.5 248.1 230.6 250.8 230.8 253.4 230.9 256.1 231.1 258.8 231.2 261.5 231.4 264.2 231.5 266.9 231.6" fill="none" stroke="#FF0000" stroke-width="2.2"/>
<g fill="#fff" stroke="#0000FF" stroke-width="1.7"><circle cx="46.6" cy="373.3" r="2.4"/><circle cx="46.9" cy="371.6" r="2.4"/><circle cx="47.2" cy="369.8" r="2.4"/><circle cx="47.5" cy="374.7" r="2.4"/><circle cx="47.8" cy="372.7" r="2.4"/><circle cx="48.1" cy="374.2" r="2.4"/><circle cx="48.4" cy="372.8" r="2.4"/><circle cx="48.7" cy="375.9" r="2.4"/><circle cx="49" cy="374.5" r="2.4"/><circle cx="49.2" cy="373.6" r="2.4"/><circle cx="49.5" cy="371.1" r="2.4"/><circle cx="49.8" cy="370.5" r="2.4"/><circle cx="50.1" cy="376.2" r="2.4"/><circle cx="50.4" cy="375" r="2.4"/><circle cx="50.7" cy="371.6" r="2.4"/><circle cx="51" cy="377.8" r="2.4"/><circle cx="51.3" cy="374.2" r="2.4"/><circle cx="51.6" cy="373.4" r="2.4"/><circle cx="52" cy="371.6" r="2.4"/><circle cx="51.7" cy="366.4" r="2.4"/><circle cx="51.1" cy="361.1" r="2.4"/><circle cx="51.2" cy="355.9" r="2.4"/><circle cx="51.3" cy="350.6" r="2.4"/><circle cx="52.5" cy="345.4" r="2.4"/><circle cx="51.4" cy="340.1" r="2.4"/><circle cx="51.5" cy="334.9" r="2.4"/><circle cx="52" cy="329.6" r="2.4"/><circle cx="51.8" cy="324.4" r="2.4"/><circle cx="51.8" cy="319.1" r="2.4"/><circle cx="51.3" cy="313.9" r="2.4"/><circle cx="52.1" cy="308.6" r="2.4"/><circle cx="51.9" cy="303.4" r="2.4"/><circle cx="52.9" cy="298.2" r="2.4"/><circle cx="52.7" cy="292.9" r="2.4"/><circle cx="52.4" cy="287.7" r="2.4"/><circle cx="52.8" cy="282.4" r="2.4"/><circle cx="52.3" cy="277.2" r="2.4"/><circle cx="53.2" cy="271.9" r="2.4"/><circle cx="52.7" cy="266.7" r="2.4"/><circle cx="53.1" cy="261.4" r="2.4"/><circle cx="52" cy="256.2" r="2.4"/><circle cx="53.1" cy="250.9" r="2.4"/><circle cx="51.9" cy="245.7" r="2.4"/><circle cx="51.8" cy="240.4" r="2.4"/><circle cx="52.9" cy="235.2" r="2.4"/><circle cx="52.6" cy="230" r="2.4"/><circle cx="53.8" cy="237.1" r="2.4"/><circle cx="53.8" cy="229.4" r="2.4"/><circle cx="54.7" cy="223" r="2.4"/><circle cx="54.7" cy="217" r="2.4"/><circle cx="56" cy="213" r="2.4"/><circle cx="58.5" cy="212.5" r="2.4"/><circle cx="59" cy="226" r="2.4"/><circle cx="57" cy="220" r="2.4"/><circle cx="60" cy="218" r="2.4"/><circle cx="63.3" cy="226.3" r="2.4"/><circle cx="62" cy="215" r="2.4"/><circle cx="64" cy="220" r="2.4"/><circle cx="66.8" cy="223.3" r="2.4"/><circle cx="69.4" cy="217.7" r="2.4"/><circle cx="67" cy="213" r="2.4"/><circle cx="71" cy="221" r="2.4"/><circle cx="72.8" cy="213.8" r="2.4"/><circle cx="73.7" cy="226.8" r="2.4"/><circle cx="76" cy="219" r="2.4"/><circle cx="79.3" cy="222" r="2.4"/><circle cx="80.6" cy="232.8" r="2.4"/><circle cx="72.5" cy="214" r="2.4"/><circle cx="72.5" cy="226.3" r="2.4"/><circle cx="75.7" cy="221.4" r="2.4"/><circle cx="79" cy="222.2" r="2.4"/><circle cx="81.5" cy="232" r="2.4"/><circle cx="83.1" cy="232.8" r="2.4"/><circle cx="88" cy="230.4" r="2.4"/><circle cx="88.8" cy="234.5" r="2.4"/><circle cx="91.3" cy="225.5" r="2.4"/><circle cx="92.9" cy="230.4" r="2.4"/><circle cx="94.5" cy="235.3" r="2.4"/><circle cx="97" cy="230.4" r="2.4"/><circle cx="98.2" cy="235.3" r="2.4"/><circle cx="85" cy="234" r="2.4"/><circle cx="79.5" cy="233.5" r="2.4"/><circle cx="105.2" cy="238.6" r="2.4"/><circle cx="111.7" cy="234.1" r="2.4"/><circle cx="118.6" cy="231.2" r="2.4"/><circle cx="125.3" cy="239.4" r="2.4"/><circle cx="131.9" cy="244" r="2.4"/><circle cx="138.7" cy="240.2" r="2.4"/><circle cx="145.3" cy="239.4" r="2.4"/><circle cx="151.8" cy="240.7" r="2.4"/><circle cx="158.6" cy="250.8" r="2.4"/><circle cx="165.3" cy="245.4" r="2.4"/><circle cx="171.8" cy="251.3" r="2.4"/><circle cx="178.8" cy="247.5" r="2.4"/><circle cx="185.6" cy="249.7" r="2.4"/><circle cx="192.5" cy="246.5" r="2.4"/><circle cx="199.1" cy="244.3" r="2.4"/><circle cx="206.1" cy="249.7" r="2.4"/><circle cx="212.6" cy="243.8" r="2.4"/><circle cx="219.4" cy="249.7" r="2.4"/><circle cx="225.9" cy="247.5" r="2.4"/><circle cx="232.5" cy="242.1" r="2.4"/><circle cx="239.5" cy="246.9" r="2.4"/><circle cx="246.4" cy="247.5" r="2.4"/><circle cx="253" cy="246.9" r="2.4"/><circle cx="259.8" cy="246" r="2.4"/><circle cx="265.6" cy="251.3" r="2.4"/></g>
<path d="M77.9 231 80.6 231.3 83.3 231.6 86 231.8 88.7 232.1 91.4 232.3 94.1 232.6 96.8 232.9 99.5 233.1 102.2 233.4 104.9 233.6 107.6 233.9 110.3 234.2 113 234.4 115.7 234.7 118.3 234.9 121 235.2 123.7 235.4 126.4 235.7 129.1 235.9 131.8 236.2 134.5 236.4 137.2 236.7 139.9 236.9 142.6 237.2 145.3 237.5 148 237.7 150.7 238 153.4 238.2 156.1 238.4 158.8 238.7 161.4 238.9 164.1 239.2 166.8 239.4 169.5 239.7 172.2 239.9 174.9 240.2 177.6 240.4 180.3 240.7 183 240.9 185.7 241.2 188.4 241.4 191.1 241.6 193.8 241.9 196.5 242.1 199.2 242.4 201.9 242.6 204.6 242.9 207.2 243.1 209.9 243.3 212.6 243.6 215.3 243.8 218 244.1 220.7 244.3 223.4 244.5 226.1 244.8 228.8 245 231.5 245.2 234.2 245.5 236.9 245.7 239.6 245.9 242.3 246.2 245 246.4 247.7 246.6 250.4 246.9 253 247.1 255.7 247.3 258.4 247.6 261.1 247.8 263.8 248 266.5 248.3" fill="none" stroke="#0000FF" stroke-width="2.2"/>
</g>
<rect x="46.5" y="209.5" width="221.0" height="170.0" fill="none" stroke="#222" stroke-width="1"/>
<line x1="51.4" y1="379.5" x2="51.4" y2="376.5" stroke="#222" stroke-width="1"/>
<line x1="91.8" y1="379.5" x2="91.8" y2="376.5" stroke="#222" stroke-width="1"/>
<line x1="132.2" y1="379.5" x2="132.2" y2="376.5" stroke="#222" stroke-width="1"/>
<line x1="172.6" y1="379.5" x2="172.6" y2="376.5" stroke="#222" stroke-width="1"/>
<line x1="213" y1="379.5" x2="213" y2="376.5" stroke="#222" stroke-width="1"/>
<line x1="253.4" y1="379.5" x2="253.4" y2="376.5" stroke="#222" stroke-width="1"/>
<line x1="71.6" y1="379.5" x2="71.6" y2="377.5" stroke="#222" stroke-width="1"/>
<line x1="112" y1="379.5" x2="112" y2="377.5" stroke="#222" stroke-width="1"/>
<line x1="152.4" y1="379.5" x2="152.4" y2="377.5" stroke="#222" stroke-width="1"/>
<line x1="192.8" y1="379.5" x2="192.8" y2="377.5" stroke="#222" stroke-width="1"/>
<line x1="233.2" y1="379.5" x2="233.2" y2="377.5" stroke="#222" stroke-width="1"/>
<line x1="46.5" y1="371.6" x2="49.5" y2="371.6" stroke="#222" stroke-width="1"/>
<line x1="46.5" y1="340.7" x2="49.5" y2="340.7" stroke="#222" stroke-width="1"/>
<line x1="46.5" y1="309.9" x2="49.5" y2="309.9" stroke="#222" stroke-width="1"/>
<line x1="46.5" y1="279" x2="49.5" y2="279" stroke="#222" stroke-width="1"/>
<line x1="46.5" y1="248.2" x2="49.5" y2="248.2" stroke="#222" stroke-width="1"/>
<line x1="46.5" y1="217.3" x2="49.5" y2="217.3" stroke="#222" stroke-width="1"/>
<line x1="46.5" y1="356.2" x2="48.5" y2="356.2" stroke="#222" stroke-width="1"/>
<line x1="46.5" y1="325.3" x2="48.5" y2="325.3" stroke="#222" stroke-width="1"/>
<line x1="46.5" y1="294.5" x2="48.5" y2="294.5" stroke="#222" stroke-width="1"/>
<line x1="46.5" y1="263.6" x2="48.5" y2="263.6" stroke="#222" stroke-width="1"/>
<line x1="46.5" y1="232.7" x2="48.5" y2="232.7" stroke="#222" stroke-width="1"/>
<text x="51.4" y="391" font-size="10" text-anchor="middle" >0</text>
<text x="91.8" y="391" font-size="10" text-anchor="middle" >300</text>
<text x="132.2" y="391" font-size="10" text-anchor="middle" >600</text>
<text x="172.6" y="391" font-size="10" text-anchor="middle" >900</text>
<text x="213" y="391" font-size="10" text-anchor="middle" >1200</text>
<text x="253.4" y="391" font-size="10" text-anchor="middle" >1500</text>
<line x1="318.5" y1="372.2" x2="538.5" y2="372.2" stroke="#333" stroke-width="1.5"/>
<g clip-path="url(#cd)">
<g fill="#fff" stroke="#FF0000" stroke-width="1.7"><circle cx="318.9" cy="371.5" r="2.4"/><circle cx="319.2" cy="365.4" r="2.4"/><circle cx="319.5" cy="374.5" r="2.4"/><circle cx="319.7" cy="373.8" r="2.4"/><circle cx="320" cy="371.4" r="2.4"/><circle cx="320.3" cy="370.5" r="2.4"/><circle cx="320.5" cy="372.5" r="2.4"/><circle cx="320.8" cy="372.6" r="2.4"/><circle cx="321.1" cy="369.9" r="2.4"/><circle cx="321.4" cy="370.5" r="2.4"/><circle cx="321.6" cy="375.1" r="2.4"/><circle cx="320.7" cy="372" r="2.4"/><circle cx="320.8" cy="367.3" r="2.4"/><circle cx="320.5" cy="362.5" r="2.4"/><circle cx="320.9" cy="357.8" r="2.4"/><circle cx="320.6" cy="353.1" r="2.4"/><circle cx="321.2" cy="348.3" r="2.4"/><circle cx="321.1" cy="343.6" r="2.4"/><circle cx="321.1" cy="338.8" r="2.4"/><circle cx="320.9" cy="334.1" r="2.4"/><circle cx="321.1" cy="329.4" r="2.4"/><circle cx="320.6" cy="324.6" r="2.4"/><circle cx="320.9" cy="319.9" r="2.4"/><circle cx="321.4" cy="315.2" r="2.4"/><circle cx="320.8" cy="310.4" r="2.4"/><circle cx="321.7" cy="305.7" r="2.4"/><circle cx="321" cy="301" r="2.4"/><circle cx="321.8" cy="296.2" r="2.4"/><circle cx="321.4" cy="291.5" r="2.4"/><circle cx="322" cy="286.8" r="2.4"/><circle cx="321.9" cy="282" r="2.4"/><circle cx="321.5" cy="277.3" r="2.4"/><circle cx="322.5" cy="272.5" r="2.4"/><circle cx="322.7" cy="267.8" r="2.4"/><circle cx="322.3" cy="263.1" r="2.4"/><circle cx="322.4" cy="258.3" r="2.4"/><circle cx="322.7" cy="253.6" r="2.4"/><circle cx="322.6" cy="248.9" r="2.4"/><circle cx="323.5" cy="244.1" r="2.4"/><circle cx="323.3" cy="239.4" r="2.4"/><circle cx="323.8" cy="246.5" r="2.4"/><circle cx="324.5" cy="239.2" r="2.4"/><circle cx="325.2" cy="233.2" r="2.4"/><circle cx="325.9" cy="232" r="2.4"/><circle cx="326.6" cy="222.7" r="2.4"/><circle cx="327.2" cy="225.8" r="2.4"/><circle cx="327.9" cy="221.9" r="2.4"/><circle cx="328.6" cy="224.4" r="2.4"/><circle cx="329.3" cy="226.3" r="2.4"/><circle cx="330" cy="225.1" r="2.4"/><circle cx="330.6" cy="225.7" r="2.4"/><circle cx="331.3" cy="224" r="2.4"/><circle cx="332" cy="225.1" r="2.4"/><circle cx="332.7" cy="224.9" r="2.4"/><circle cx="333.4" cy="228.1" r="2.4"/><circle cx="334" cy="226.4" r="2.4"/><circle cx="334.7" cy="219.1" r="2.4"/><circle cx="335.4" cy="226" r="2.4"/><circle cx="336.1" cy="227.1" r="2.4"/><circle cx="336.8" cy="223" r="2.4"/><circle cx="337.4" cy="219.8" r="2.4"/><circle cx="338.1" cy="228.3" r="2.4"/><circle cx="338.8" cy="224.6" r="2.4"/><circle cx="339.5" cy="225.9" r="2.4"/><circle cx="340.2" cy="229.2" r="2.4"/><circle cx="340.8" cy="221.8" r="2.4"/><circle cx="341.5" cy="224.1" r="2.4"/><circle cx="342.2" cy="223.8" r="2.4"/><circle cx="342.9" cy="226.2" r="2.4"/><circle cx="343.6" cy="222.7" r="2.4"/><circle cx="344.2" cy="225.6" r="2.4"/><circle cx="344.9" cy="224.4" r="2.4"/><circle cx="345.6" cy="227.3" r="2.4"/><circle cx="346.3" cy="227.6" r="2.4"/><circle cx="346.9" cy="220" r="2.4"/><circle cx="347.6" cy="225.5" r="2.4"/><circle cx="348.3" cy="223.1" r="2.4"/><circle cx="349" cy="224.1" r="2.4"/><circle cx="349.7" cy="225.3" r="2.4"/><circle cx="350.3" cy="225.5" r="2.4"/><circle cx="351" cy="222.1" r="2.4"/><circle cx="351.7" cy="224.9" r="2.4"/><circle cx="352.4" cy="224.4" r="2.4"/><circle cx="353.1" cy="223.9" r="2.4"/><circle cx="353.7" cy="220.5" r="2.4"/><circle cx="328" cy="225" r="2.4"/><circle cx="332" cy="224" r="2.4"/><circle cx="336" cy="221" r="2.4"/><circle cx="376" cy="225" r="2.4"/><circle cx="382" cy="234" r="2.4"/><circle cx="389" cy="225" r="2.4"/><circle cx="396" cy="235" r="2.4"/><circle cx="403" cy="231" r="2.4"/><circle cx="410" cy="233" r="2.4"/><circle cx="416" cy="226" r="2.4"/><circle cx="423" cy="228.6" r="2.4"/><circle cx="423.3" cy="228.6" r="2.4"/><circle cx="429.8" cy="227.9" r="2.4"/><circle cx="436.4" cy="230.1" r="2.4"/><circle cx="443.6" cy="237.7" r="2.4"/><circle cx="450.5" cy="237.7" r="2.4"/><circle cx="457.1" cy="227.9" r="2.4"/><circle cx="463.6" cy="230.7" r="2.4"/><circle cx="470.6" cy="235.1" r="2.4"/><circle cx="477.2" cy="222.5" r="2.4"/><circle cx="484.4" cy="235.1" r="2.4"/><circle cx="490.9" cy="236.6" r="2.4"/><circle cx="497.5" cy="239.5" r="2.4"/><circle cx="504.4" cy="239.5" r="2.4"/><circle cx="511.6" cy="235.5" r="2.4"/><circle cx="518.2" cy="236" r="2.4"/><circle cx="525.4" cy="241" r="2.4"/><circle cx="532" cy="241.7" r="2.4"/><circle cx="537.8" cy="233.4" r="2.4"/><circle cx="343" cy="226" r="2.4"/><circle cx="350" cy="227" r="2.4"/><circle cx="357" cy="228" r="2.4"/><circle cx="363" cy="224" r="2.4"/><circle cx="369" cy="227" r="2.4"/></g>
<path d="M321.5 372 321.6 360.9 321.7 350.7 321.8 341.2 321.9 332.4 322 324.3 322.1 316.8 322.2 309.9 322.3 303.5 322.4 297.5 322.5 292 322.6 287 322.7 282.2 322.8 277.9 322.9 273.9 323 270.2 323.1 266.7 323.2 263.5 323.2 260.6 323.3 257.9 323.4 255.3 323.5 253 323.6 250.9 323.7 248.9 323.8 247 323.9 245.3 324 243.7 324.1 242.3 324.2 240.9 324.3 239.7 324.4 238.5 324.5 237.5 324.6 236.5 324.7 235.6 324.8 234.7 324.9 233.9 325 233.2 325.1 232.5 325.2 231.9 325.2 231.4 325.3 230.8 325.4 230.3 325.5 229.9 325.6 229.5 325.7 229.1 325.8 228.7 325.9 228.4 326 228.1 326.1 227.8 326.2 227.6 326.3 227.3 326.4 227.1 326.5 226.9 326.6 226.7 326.7 226.6 326.8 226.4 326.9 226.2 327 226.1 327.1 226 327.1 225.9 327.2 225.8 327.3 225.7 327.4 225.6 327.5 225.5 327.6 225.4 327.7 225.3 327.8 225.3 327.9 225.2 328 225.2 328.1 225.1 328.2 225.1 328.3 225 328.4 225 328.5 225 328.6 224.9 328.7 224.9 328.8 224.9 328.9 224.8 329 224.8 329.1 224.8 329.1 224.8 329.2 224.8 329.3 224.8 329.4 224.7 329.5 224.7 329.6 224.7 329.7 224.7 329.8 224.7 329.9 224.7 330 224.7 330.1 224.7 330.2 224.7 330.3 224.7 330.4 224.7 330.5 224.7 330.6 224.7 330.7 224.7 330.8 224.7 330.9 224.7 331 224.7 331 224.7 331.1 224.7 331.2 224.7 331.3 224.7 331.4 224.7 331.5 224.7 331.6 224.7 331.7 224.7 331.8 224.7 331.9 224.7 332 224.7 332.1 224.7 332.2 224.7 332.3 224.7 332.4 224.7 332.5 224.7 332.6 224.7 332.7 224.7 332.8 224.7 332.9 224.7 333 224.8 333 224.8 333.1 224.8 333.2 224.8 333.3 224.8 333.4 224.8 333.5 224.8 333.6 224.8 333.7 224.8 333.8 224.8 333.9 224.8 334 224.8 334.1 224.8 334.2 224.8 334.3 224.8 334.4 224.8 334.5 224.8 334.6 224.8 334.7 224.9 334.8 224.9 334.9 224.9 334.9 224.9 335 224.9 335.1 224.9 335.2 224.9 335.3 224.9 335.4 224.9 335.5 224.9 335.6 224.9 335.7 224.9 335.8 224.9 335.9 224.9 336 224.9 336.1 224.9 336.2 224.9 336.3 225 336.4 225 336.5 225 336.6 225 336.7 225 336.8 225 336.9 225 336.9 225 337 225 337.1 225 337.2 225 337.3 225 337.4 225 337.5 225 337.6 225 337.7 225 337.8 225 337.9 225.1 338 225.1 338.1 225.1 338.2 225.1 338.3 225.1 338.4 225.1 338.5 225.1 338.6 225.1 338.7 225.1 338.8 225.1 338.8 225.1 338.9 225.1 339 225.1 339.1 225.1 339.2 225.1 339.3 225.1 339.4 225.1 339.5 225.2 339.6 225.2 339.7 225.2 339.8 225.2 339.9 225.2 340 225.2 340.1 225.2 340.2 225.2 340.3 225.2 340.4 225.2 340.5 225.2 340.6 225.2 340.7 225.2 340.8 225.2 340.8 225.2 340.9 225.2 341 225.3 341.1 225.3 341.2 225.3 341.3 225.3 341.4 225.3 341.5 225.3 341.6 225.3 341.7 225.3 341.8 225.3 341.9 225.3 342 225.3 342.1 225.3 342.2 225.3 342.3 225.3 342.4 225.3 342.5 225.3 342.6 225.3 342.7 225.4 342.7 225.4 342.8 225.4 342.9 225.4 343 225.4 343.1 225.4 343.2 225.4 343.3 225.4 343.4 225.4 343.5 225.4 343.6 225.4 343.7 225.4 343.8 225.4 343.9 225.4 344 225.4 344.1 225.4 344.2 225.5 344.3 225.5 344.4 225.5 344.5 225.5 344.6 225.5 344.7 225.5 344.7 225.5 344.8 225.5 344.9 225.5 345 225.5 345.1 225.5 345.2 225.5 345.3 225.5 345.4 225.5 345.5 225.5 345.6 225.5 345.7 225.5 345.8 225.6 345.9 225.6 346 225.6 346.1 225.6 346.2 225.6 346.3 225.6 346.4 225.6 346.5 225.6 346.6 225.6 346.7 225.6 346.7 225.6 346.8 225.6 346.9 225.6 347 225.6 347.1 225.6 347.2 225.6 347.3 225.7 347.4 225.7 347.5 225.7 347.6 225.7 347.7 225.7 347.8 225.7 347.9 225.7 348 225.7 348.1 225.7 348.2 225.7 348.3 225.7 348.4 225.7 348.5 225.7 348.6 225.7 348.6 225.7 351.3 225.9 354 226.1 356.7 226.2 359.5 226.4 362.2 226.6 364.9 226.8 367.6 226.9 370.3 227.1 373 227.3 375.8 227.4 378.5 227.6 381.2 227.8 383.9 228 386.6 228.1 389.3 228.3 392.1 228.5 394.8 228.6 397.5 228.8 400.2 229 402.9 229.1 405.7 229.3 408.4 229.5 411.1 229.6 413.8 229.8 416.5 230 419.2 230.1 422 230.3 424.7 230.5 427.4 230.6 430.1 230.8 432.8 231 435.6 231.1 438.3 231.3 441 231.5 443.7 231.6 446.4 231.8 449.1 232 451.9 232.1 454.6 232.3 457.3 232.5 460 232.6 462.7 232.8 465.5 232.9 468.2 233.1 470.9 233.3 473.6 233.4 476.3 233.6 479 233.8 481.8 233.9 484.5 234.1 487.2 234.2 489.9 234.4 492.6 234.6 495.4 234.7 498.1 234.9 500.8 235.1 503.5 235.2 506.2 235.4 508.9 235.5 511.7 235.7 514.4 235.9 517.1 236 519.8 236.2 522.5 236.3 525.2 236.5 528 236.7 530.7 236.8 533.4 237 536.1 237.1 538.8 237.3" fill="none" stroke="#FF0000" stroke-width="2.2"/>
<g fill="#fff" stroke="#0000FF" stroke-width="1.7"><circle cx="319.2" cy="371.5" r="2.4"/><circle cx="319.5" cy="372.3" r="2.4"/><circle cx="319.8" cy="375.1" r="2.4"/><circle cx="320" cy="377.6" r="2.4"/><circle cx="320.3" cy="370.7" r="2.4"/><circle cx="320.6" cy="370.6" r="2.4"/><circle cx="320.8" cy="373.9" r="2.4"/><circle cx="321.1" cy="371.9" r="2.4"/><circle cx="321.4" cy="371.2" r="2.4"/><circle cx="321.7" cy="371" r="2.4"/><circle cx="321.9" cy="370.8" r="2.4"/><circle cx="321.4" cy="372" r="2.4"/><circle cx="322.1" cy="367.6" r="2.4"/><circle cx="321.3" cy="363.1" r="2.4"/><circle cx="322" cy="358.7" r="2.4"/><circle cx="322" cy="354.2" r="2.4"/><circle cx="322.3" cy="349.8" r="2.4"/><circle cx="322.7" cy="345.4" r="2.4"/><circle cx="322.7" cy="340.9" r="2.4"/><circle cx="322" cy="336.5" r="2.4"/><circle cx="321.9" cy="332" r="2.4"/><circle cx="322.8" cy="327.6" r="2.4"/><circle cx="322.4" cy="323.2" r="2.4"/><circle cx="322.8" cy="318.7" r="2.4"/><circle cx="323.2" cy="314.3" r="2.4"/><circle cx="322.6" cy="309.8" r="2.4"/><circle cx="322.7" cy="305.4" r="2.4"/><circle cx="323.5" cy="301" r="2.4"/><circle cx="323.7" cy="296.5" r="2.4"/><circle cx="323.8" cy="292.1" r="2.4"/><circle cx="324" cy="287.6" r="2.4"/><circle cx="324" cy="282" r="2.4"/><circle cx="325" cy="275" r="2.4"/><circle cx="326" cy="269" r="2.4"/><circle cx="327.6" cy="265" r="2.4"/><circle cx="329" cy="261" r="2.4"/><circle cx="329" cy="255" r="2.4"/><circle cx="330.4" cy="251" r="2.4"/><circle cx="332.4" cy="247" r="2.4"/><circle cx="331" cy="239" r="2.4"/><circle cx="336" cy="239" r="2.4"/><circle cx="333" cy="235" r="2.4"/><circle cx="330" cy="231" r="2.4"/><circle cx="335" cy="230" r="2.4"/><circle cx="340" cy="225" r="2.4"/><circle cx="335" cy="225" r="2.4"/><circle cx="333" cy="221" r="2.4"/><circle cx="336" cy="221" r="2.4"/><circle cx="328" cy="252" r="2.4"/><circle cx="327" cy="258" r="2.4"/><circle cx="338" cy="216" r="2.4"/><circle cx="348" cy="215" r="2.4"/><circle cx="354" cy="215" r="2.4"/><circle cx="359" cy="218" r="2.4"/><circle cx="366" cy="221" r="2.4"/><circle cx="382" cy="223" r="2.4"/><circle cx="416" cy="217" r="2.4"/><circle cx="423" cy="222" r="2.4"/><circle cx="364" cy="253" r="2.4"/><circle cx="346" cy="248" r="2.4"/><circle cx="342" cy="243" r="2.4"/><circle cx="337" cy="239" r="2.4"/><circle cx="349" cy="240" r="2.4"/><circle cx="355" cy="241" r="2.4"/><circle cx="362" cy="243" r="2.4"/><circle cx="341" cy="237" r="2.4"/><circle cx="356" cy="233" r="2.4"/><circle cx="347" cy="232" r="2.4"/><circle cx="365" cy="237" r="2.4"/><circle cx="344" cy="225" r="2.4"/><circle cx="351" cy="226" r="2.4"/><circle cx="367" cy="225" r="2.4"/><circle cx="376" cy="232" r="2.4"/><circle cx="389" cy="227" r="2.4"/><circle cx="396" cy="226" r="2.4"/><circle cx="403" cy="222" r="2.4"/><circle cx="409" cy="223" r="2.4"/><circle cx="334" cy="234" r="2.4"/><circle cx="332" cy="240" r="2.4"/><circle cx="333" cy="228" r="2.4"/><circle cx="339" cy="227" r="2.4"/><circle cx="335" cy="222" r="2.4"/><circle cx="343" cy="219" r="2.4"/><circle cx="423.3" cy="222" r="2.4"/><circle cx="429.8" cy="220.7" r="2.4"/><circle cx="436.4" cy="218.5" r="2.4"/><circle cx="443.6" cy="230.7" r="2.4"/><circle cx="450.5" cy="222" r="2.4"/><circle cx="457.1" cy="219.8" r="2.4"/><circle cx="463.6" cy="219.2" r="2.4"/><circle cx="470.6" cy="232.9" r="2.4"/><circle cx="477.2" cy="226.4" r="2.4"/><circle cx="484.4" cy="226.4" r="2.4"/><circle cx="490.9" cy="230.7" r="2.4"/><circle cx="497.5" cy="227.9" r="2.4"/><circle cx="504.4" cy="235.1" r="2.4"/><circle cx="511.6" cy="228.6" r="2.4"/><circle cx="518.2" cy="231.2" r="2.4"/><circle cx="525.4" cy="218.5" r="2.4"/><circle cx="532" cy="229" r="2.4"/><circle cx="537.8" cy="222.5" r="2.4"/></g>
<path d="M321.8 372 321.9 367.2 322 362.6 322.1 358.2 322.2 353.9 322.3 349.7 322.4 345.6 322.5 341.7 322.6 337.9 322.7 334.2 322.8 330.7 322.9 327.2 322.9 323.9 323 320.6 323.1 317.5 323.2 314.4 323.3 311.5 323.4 308.7 323.5 305.9 323.6 303.2 323.7 300.6 323.8 298.1 323.9 295.7 324 293.3 324.1 291 324.2 288.8 324.3 286.7 324.4 284.6 324.5 282.6 324.6 280.7 324.7 278.8 324.8 276.9 324.9 275.2 324.9 273.5 325 271.8 325.1 270.2 325.2 268.6 325.3 267.1 325.4 265.7 325.5 264.3 325.6 262.9 325.7 261.6 325.8 260.3 325.9 259 326 257.8 326.1 256.7 326.2 255.5 326.3 254.4 326.4 253.4 326.5 252.3 326.6 251.3 326.7 250.4 326.8 249.4 326.8 248.5 326.9 247.7 327 246.8 327.1 246 327.2 245.2 327.3 244.4 327.4 243.7 327.5 243 327.6 242.3 327.7 241.6 327.8 240.9 327.9 240.3 328 239.7 328.1 239.1 328.2 238.5 328.3 237.9 328.4 237.4 328.5 236.9 328.6 236.4 328.7 235.9 328.8 235.4 328.8 234.9 328.9 234.5 329 234 329.1 233.6 329.2 233.2 329.3 232.8 329.4 232.4 329.5 232.1 329.6 231.7 329.7 231.4 329.8 231 329.9 230.7 330 230.4 330.1 230.1 330.2 229.8 330.3 229.5 330.4 229.2 330.5 229 330.6 228.7 330.7 228.5 330.7 228.2 330.8 228 330.9 227.8 331 227.5 331.1 227.3 331.2 227.1 331.3 226.9 331.4 226.7 331.5 226.5 331.6 226.4 331.7 226.2 331.8 226 331.9 225.8 332 225.7 332.1 225.5 332.2 225.4 332.3 225.2 332.4 225.1 332.5 225 332.6 224.8 332.7 224.7 332.7 224.6 332.8 224.5 332.9 224.3 333 224.2 333.1 224.1 333.2 224 333.3 223.9 333.4 223.8 333.5 223.7 333.6 223.6 333.7 223.5 333.8 223.5 333.9 223.4 334 223.3 334.1 223.2 334.2 223.1 334.3 223.1 334.4 223 334.5 222.9 334.6 222.9 334.7 222.8 334.7 222.7 334.8 222.7 334.9 222.6 335 222.6 335.1 222.5 335.2 222.5 335.3 222.4 335.4 222.4 335.5 222.3 335.6 222.3 335.7 222.2 335.8 222.2 335.9 222.1 336 222.1 336.1 222.1 336.2 222 336.3 222 336.4 222 336.5 221.9 336.6 221.9 336.6 221.9 336.7 221.8 336.8 221.8 336.9 221.8 337 221.8 337.1 221.7 337.2 221.7 337.3 221.7 337.4 221.7 337.5 221.6 337.6 221.6 337.7 221.6 337.8 221.6 337.9 221.5 338 221.5 338.1 221.5 338.2 221.5 338.3 221.5 338.4 221.5 338.5 221.4 338.6 221.4 338.6 221.4 338.7 221.4 338.8 221.4 338.9 221.4 339 221.4 339.1 221.4 339.2 221.3 339.3 221.3 339.4 221.3 339.5 221.3 339.6 221.3 339.7 221.3 339.8 221.3 339.9 221.3 340 221.3 340.1 221.3 340.2 221.3 340.3 221.2 340.4 221.2 340.5 221.2 340.5 221.2 340.6 221.2 340.7 221.2 340.8 221.2 340.9 221.2 341 221.2 341.1 221.2 341.2 221.2 341.3 221.2 341.4 221.2 341.5 221.2 341.6 221.2 341.7 221.2 341.8 221.2 341.9 221.2 342 221.2 342.1 221.2 342.2 221.2 342.3 221.2 342.4 221.2 342.5 221.2 342.5 221.2 342.6 221.2 342.7 221.1 342.8 221.1 342.9 221.1 343 221.1 343.1 221.1 343.2 221.1 343.3 221.1 343.4 221.1 343.5 221.1 343.6 221.1 343.7 221.1 343.8 221.1 343.9 221.1 344 221.1 344.1 221.1 344.2 221.1 344.3 221.1 344.4 221.1 344.4 221.1 344.5 221.1 344.6 221.1 344.7 221.1 344.8 221.1 344.9 221.2 345 221.2 345.1 221.2 345.2 221.2 345.3 221.2 345.4 221.2 345.5 221.2 345.6 221.2 345.7 221.2 345.8 221.2 345.9 221.2 346 221.2 346.1 221.2 346.2 221.2 346.3 221.2 346.4 221.2 346.4 221.2 346.5 221.2 346.6 221.2 346.7 221.2 346.8 221.2 346.9 221.2 347 221.2 347.1 221.2 347.2 221.2 347.3 221.2 347.4 221.2 347.5 221.2 347.6 221.2 347.7 221.2 347.8 221.2 347.9 221.2 348 221.2 348.1 221.2 348.2 221.2 348.3 221.2 348.3 221.2 348.4 221.2 348.5 221.2 348.6 221.2 351.3 221.3 354 221.4 356.7 221.5 359.5 221.6 362.2 221.7 364.9 221.7 367.6 221.8 370.3 221.9 373 222 375.8 222.1 378.5 222.2 381.2 222.3 383.9 222.4 386.6 222.5 389.3 222.6 392.1 222.6 394.8 222.7 397.5 222.8 400.2 222.9 402.9 223 405.7 223.1 408.4 223.2 411.1 223.3 413.8 223.4 416.5 223.4 419.2 223.5 422 223.6 424.7 223.7 427.4 223.8 430.1 223.9 432.8 224 435.6 224.1 438.3 224.2 441 224.2 443.7 224.3 446.4 224.4 449.1 224.5 451.9 224.6 454.6 224.7 457.3 224.8 460 224.9 462.7 225 465.5 225 468.2 225.1 470.9 225.2 473.6 225.3 476.3 225.4 479 225.5 481.8 225.6 484.5 225.7 487.2 225.7 489.9 225.8 492.6 225.9 495.4 226 498.1 226.1 500.8 226.2 503.5 226.3 506.2 226.4 508.9 226.4 511.7 226.5 514.4 226.6 517.1 226.7 519.8 226.8 522.5 226.9 525.2 227 528 227 530.7 227.1 533.4 227.2 536.1 227.3 538.8 227.4" fill="none" stroke="#0000FF" stroke-width="2.2"/>
</g>
<rect x="318.5" y="209.5" width="220.0" height="170.0" fill="none" stroke="#222" stroke-width="1"/>
<line x1="321.4" y1="379.5" x2="321.4" y2="376.5" stroke="#222" stroke-width="1"/>
<line x1="362.2" y1="379.5" x2="362.2" y2="376.5" stroke="#222" stroke-width="1"/>
<line x1="402.9" y1="379.5" x2="402.9" y2="376.5" stroke="#222" stroke-width="1"/>
<line x1="443.7" y1="379.5" x2="443.7" y2="376.5" stroke="#222" stroke-width="1"/>
<line x1="484.5" y1="379.5" x2="484.5" y2="376.5" stroke="#222" stroke-width="1"/>
<line x1="525.2" y1="379.5" x2="525.2" y2="376.5" stroke="#222" stroke-width="1"/>
<line x1="341.8" y1="379.5" x2="341.8" y2="377.5" stroke="#222" stroke-width="1"/>
<line x1="382.6" y1="379.5" x2="382.6" y2="377.5" stroke="#222" stroke-width="1"/>
<line x1="423.3" y1="379.5" x2="423.3" y2="377.5" stroke="#222" stroke-width="1"/>
<line x1="464.1" y1="379.5" x2="464.1" y2="377.5" stroke="#222" stroke-width="1"/>
<line x1="504.9" y1="379.5" x2="504.9" y2="377.5" stroke="#222" stroke-width="1"/>
<line x1="318.5" y1="372" x2="321.5" y2="372" stroke="#222" stroke-width="1"/>
<line x1="318.5" y1="342.4" x2="321.5" y2="342.4" stroke="#222" stroke-width="1"/>
<line x1="318.5" y1="312.8" x2="321.5" y2="312.8" stroke="#222" stroke-width="1"/>
<line x1="318.5" y1="283.2" x2="321.5" y2="283.2" stroke="#222" stroke-width="1"/>
<line x1="318.5" y1="253.6" x2="321.5" y2="253.6" stroke="#222" stroke-width="1"/>
<line x1="318.5" y1="224" x2="321.5" y2="224" stroke="#222" stroke-width="1"/>
<line x1="318.5" y1="357.2" x2="320.5" y2="357.2" stroke="#222" stroke-width="1"/>
<line x1="318.5" y1="327.6" x2="320.5" y2="327.6" stroke="#222" stroke-width="1"/>
<line x1="318.5" y1="298" x2="320.5" y2="298" stroke="#222" stroke-width="1"/>
<line x1="318.5" y1="268.4" x2="320.5" y2="268.4" stroke="#222" stroke-width="1"/>
<line x1="318.5" y1="238.8" x2="320.5" y2="238.8" stroke="#222" stroke-width="1"/>
<text x="321.4" y="391" font-size="10" text-anchor="middle" >0</text>
<text x="362.2" y="391" font-size="10" text-anchor="middle" >300</text>
<text x="402.9" y="391" font-size="10" text-anchor="middle" >600</text>
<text x="443.7" y="391" font-size="10" text-anchor="middle" >900</text>
<text x="484.5" y="391" font-size="10" text-anchor="middle" >1200</text>
<text x="525.2" y="391" font-size="10" text-anchor="middle" >1500</text>
<text x="42.3" y="375.2" font-size="10" text-anchor="end" >0.0</text>
<text x="314.6" y="375.6" font-size="10" text-anchor="end" >0.0</text>
<text x="42.3" y="344.3" font-size="10" text-anchor="end" >0.2</text>
<text x="314.6" y="346" font-size="10" text-anchor="end" >0.2</text>
<text x="42.3" y="313.5" font-size="10" text-anchor="end" >0.4</text>
<text x="314.6" y="316.4" font-size="10" text-anchor="end" >0.4</text>
<text x="42.3" y="282.6" font-size="10" text-anchor="end" >0.6</text>
<text x="314.6" y="286.8" font-size="10" text-anchor="end" >0.6</text>
<text x="42.3" y="251.8" font-size="10" text-anchor="end" >0.8</text>
<text x="314.6" y="257.2" font-size="10" text-anchor="end" >0.8</text>
<text x="42.3" y="220.9" font-size="10" text-anchor="end" >1.0</text>
<text x="314.6" y="227.6" font-size="10" text-anchor="end" >1.0</text>
<text x="151.8" y="406.5" font-size="13.6" text-anchor="middle" >Delay time (ps)</text>
<text x="423.9" y="406.7" font-size="13.6" text-anchor="middle" >Delay time (ps)</text>
<text transform="translate(23.2 293.5) rotate(-90)" font-size="13.6" text-anchor="middle">−ΔOD (Normalized)</text>
<text transform="translate(295.2 294.8) rotate(-90)" font-size="13.8" text-anchor="middle">−ΔOD (Normalized)</text>
<g fill="#fff" stroke="#FF0000" stroke-width="1.7"><circle cx="85.6" cy="347.7" r="2.5"/></g>
<g fill="#fff" stroke="#0000FF" stroke-width="1.7"><circle cx="85.6" cy="362.1" r="2.5"/></g>
<text x="101.1" y="350.9" font-size="10.3">1.4×10<tspan font-size="7.0" dy="-3.9">13</tspan><tspan dy="3.9" dx="1.5" font-size="10.3"> (photons·cm</tspan><tspan font-size="7.0" dy="-3.9" dx="0.6">−2</tspan><tspan dy="3.9" dx="0.8" font-size="10.3">·pulse</tspan><tspan font-size="7.0" dy="-3.9" dx="0.6">−1</tspan><tspan dy="3.9" dx="1" font-size="10.3">)</tspan></text>
<text x="101.1" y="365.3" font-size="10.3">1.4×10<tspan font-size="7.0" dy="-3.9">14</tspan><tspan dy="3.9" dx="1.5" font-size="10.3"> (photons·cm</tspan><tspan font-size="7.0" dy="-3.9" dx="0.6">−2</tspan><tspan dy="3.9" dx="0.8" font-size="10.3">·pulse</tspan><tspan font-size="7.0" dy="-3.9" dx="0.6">−1</tspan><tspan dy="3.9" dx="1" font-size="10.3">)</tspan></text>
<g fill="#fff" stroke="#FF0000" stroke-width="1.7"><circle cx="478.3" cy="347.7" r="2.5"/></g>
<g fill="#fff" stroke="#0000FF" stroke-width="1.7"><circle cx="478.3" cy="361.1" r="2.5"/></g>
<text x="490.4" y="351.5" font-size="10.4" text-anchor="start" >w/o DIO</text>
<text x="490.4" y="365.0" font-size="10.4" text-anchor="start" >DIO</text>
</g>
</svg></body></html>
